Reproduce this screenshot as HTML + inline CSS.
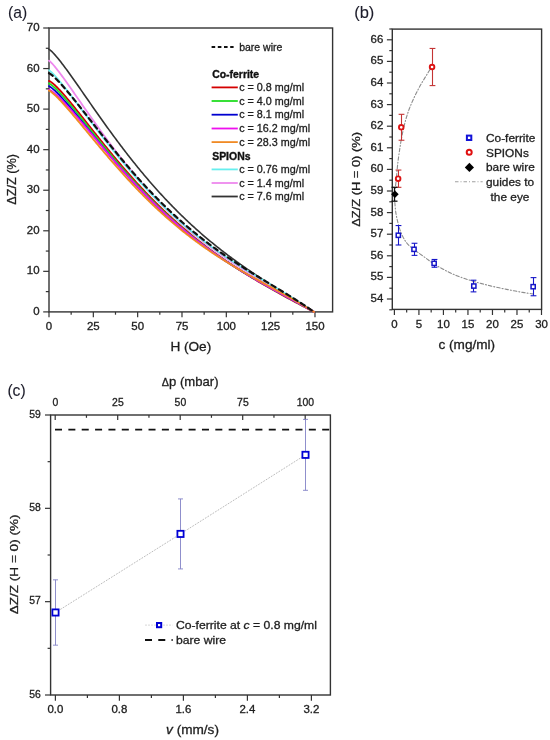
<!DOCTYPE html>
<html><head><meta charset="utf-8"><title>Figure</title>
<style>
html,body{margin:0;padding:0;background:#fff;}
body{width:550px;height:740px;overflow:hidden;}
svg{display:block;font-family:'Liberation Sans', Arial, sans-serif;}
</style></head>
<body>
<svg width="550" height="740" viewBox="0 0 550 740">
<rect x="0" y="0" width="550" height="740" fill="#fff"/>
<text transform="translate(8.00,18.10) scale(0.98,1)" font-size="16" text-anchor="start" stroke="#1c1c2a" stroke-width="0.1" fill="#1c1c2a">(a)</text>
<rect x="49.0" y="28.0" width="283.6" height="283.9" fill="none" stroke="#333333" stroke-width="1.4"/>
<line x1="43.20" y1="311.90" x2="49.00" y2="311.90" stroke="#333333" stroke-width="1.2"/>
<text transform="translate(39.60,314.90) scale(1.08,1)" font-size="10.6" text-anchor="end" stroke="#1e1e1e" stroke-width="0.3" fill="#1e1e1e">0</text>
<line x1="45.80" y1="291.62" x2="49.00" y2="291.62" stroke="#333333" stroke-width="1.2"/>
<line x1="43.20" y1="271.34" x2="49.00" y2="271.34" stroke="#333333" stroke-width="1.2"/>
<text transform="translate(39.60,274.34) scale(1.08,1)" font-size="10.6" text-anchor="end" stroke="#1e1e1e" stroke-width="0.3" fill="#1e1e1e">10</text>
<line x1="45.80" y1="251.06" x2="49.00" y2="251.06" stroke="#333333" stroke-width="1.2"/>
<line x1="43.20" y1="230.79" x2="49.00" y2="230.79" stroke="#333333" stroke-width="1.2"/>
<text transform="translate(39.60,233.79) scale(1.08,1)" font-size="10.6" text-anchor="end" stroke="#1e1e1e" stroke-width="0.3" fill="#1e1e1e">20</text>
<line x1="45.80" y1="210.51" x2="49.00" y2="210.51" stroke="#333333" stroke-width="1.2"/>
<line x1="43.20" y1="190.23" x2="49.00" y2="190.23" stroke="#333333" stroke-width="1.2"/>
<text transform="translate(39.60,193.23) scale(1.08,1)" font-size="10.6" text-anchor="end" stroke="#1e1e1e" stroke-width="0.3" fill="#1e1e1e">30</text>
<line x1="45.80" y1="169.95" x2="49.00" y2="169.95" stroke="#333333" stroke-width="1.2"/>
<line x1="43.20" y1="149.67" x2="49.00" y2="149.67" stroke="#333333" stroke-width="1.2"/>
<text transform="translate(39.60,152.67) scale(1.08,1)" font-size="10.6" text-anchor="end" stroke="#1e1e1e" stroke-width="0.3" fill="#1e1e1e">40</text>
<line x1="45.80" y1="129.39" x2="49.00" y2="129.39" stroke="#333333" stroke-width="1.2"/>
<line x1="43.20" y1="109.11" x2="49.00" y2="109.11" stroke="#333333" stroke-width="1.2"/>
<text transform="translate(39.60,112.11) scale(1.08,1)" font-size="10.6" text-anchor="end" stroke="#1e1e1e" stroke-width="0.3" fill="#1e1e1e">50</text>
<line x1="45.80" y1="88.84" x2="49.00" y2="88.84" stroke="#333333" stroke-width="1.2"/>
<line x1="43.20" y1="68.56" x2="49.00" y2="68.56" stroke="#333333" stroke-width="1.2"/>
<text transform="translate(39.60,71.56) scale(1.08,1)" font-size="10.6" text-anchor="end" stroke="#1e1e1e" stroke-width="0.3" fill="#1e1e1e">60</text>
<line x1="45.80" y1="48.28" x2="49.00" y2="48.28" stroke="#333333" stroke-width="1.2"/>
<line x1="43.20" y1="28.00" x2="49.00" y2="28.00" stroke="#333333" stroke-width="1.2"/>
<text transform="translate(39.60,31.00) scale(1.08,1)" font-size="10.6" text-anchor="end" stroke="#1e1e1e" stroke-width="0.3" fill="#1e1e1e">70</text>
<line x1="49.00" y1="311.90" x2="49.00" y2="317.20" stroke="#333333" stroke-width="1.2"/>
<text transform="translate(49.00,329.80) scale(1.08,1)" font-size="10.6" text-anchor="middle" stroke="#1e1e1e" stroke-width="0.3" fill="#1e1e1e">0</text>
<line x1="71.16" y1="311.90" x2="71.16" y2="314.70" stroke="#333333" stroke-width="1.2"/>
<line x1="93.33" y1="311.90" x2="93.33" y2="317.20" stroke="#333333" stroke-width="1.2"/>
<text transform="translate(93.33,329.80) scale(1.08,1)" font-size="10.6" text-anchor="middle" stroke="#1e1e1e" stroke-width="0.3" fill="#1e1e1e">25</text>
<line x1="115.49" y1="311.90" x2="115.49" y2="314.70" stroke="#333333" stroke-width="1.2"/>
<line x1="137.66" y1="311.90" x2="137.66" y2="317.20" stroke="#333333" stroke-width="1.2"/>
<text transform="translate(137.66,329.80) scale(1.08,1)" font-size="10.6" text-anchor="middle" stroke="#1e1e1e" stroke-width="0.3" fill="#1e1e1e">50</text>
<line x1="159.82" y1="311.90" x2="159.82" y2="314.70" stroke="#333333" stroke-width="1.2"/>
<line x1="181.99" y1="311.90" x2="181.99" y2="317.20" stroke="#333333" stroke-width="1.2"/>
<text transform="translate(181.99,329.80) scale(1.08,1)" font-size="10.6" text-anchor="middle" stroke="#1e1e1e" stroke-width="0.3" fill="#1e1e1e">75</text>
<line x1="204.16" y1="311.90" x2="204.16" y2="314.70" stroke="#333333" stroke-width="1.2"/>
<line x1="226.32" y1="311.90" x2="226.32" y2="317.20" stroke="#333333" stroke-width="1.2"/>
<text transform="translate(226.32,329.80) scale(1.08,1)" font-size="10.6" text-anchor="middle" stroke="#1e1e1e" stroke-width="0.3" fill="#1e1e1e">100</text>
<line x1="248.48" y1="311.90" x2="248.48" y2="314.70" stroke="#333333" stroke-width="1.2"/>
<line x1="270.65" y1="311.90" x2="270.65" y2="317.20" stroke="#333333" stroke-width="1.2"/>
<text transform="translate(270.65,329.80) scale(1.08,1)" font-size="10.6" text-anchor="middle" stroke="#1e1e1e" stroke-width="0.3" fill="#1e1e1e">125</text>
<line x1="292.81" y1="311.90" x2="292.81" y2="314.70" stroke="#333333" stroke-width="1.2"/>
<line x1="314.98" y1="311.90" x2="314.98" y2="317.20" stroke="#333333" stroke-width="1.2"/>
<text transform="translate(314.98,329.80) scale(1.08,1)" font-size="10.6" text-anchor="middle" stroke="#1e1e1e" stroke-width="0.3" fill="#1e1e1e">150</text>
<text transform="translate(190.80,351.20) scale(1.08,1)" font-size="12.6" text-anchor="middle" stroke="#1e1e1e" stroke-width="0.3" fill="#1e1e1e">H (Oe)</text>
<text transform="translate(15.70,179.40) rotate(-90) scale(1.07,1)" font-size="11.9" text-anchor="middle" stroke="#1e1e1e" stroke-width="0.3" fill="#1e1e1e">&#916;Z/Z (%)</text>
<path d="M49.00,49.37 L49.89,49.90 L50.77,50.62 L51.66,51.42 L52.55,52.29 L53.43,53.21 L54.32,54.16 L55.20,55.15 L56.09,56.18 L56.98,57.22 L57.86,58.29 L58.75,59.38 L59.64,60.49 L60.52,61.61 L61.41,62.75 L62.29,63.91 L63.18,65.07 L64.07,66.25 L64.95,67.44 L65.84,68.63 L66.73,69.84 L67.61,71.05 L68.50,72.27 L69.38,73.50 L70.27,74.74 L71.16,75.98 L72.04,77.22 L72.93,78.47 L73.82,79.72 L74.70,80.98 L75.59,82.24 L76.47,83.50 L77.36,84.77 L78.25,86.04 L79.13,87.31 L80.02,88.58 L80.91,89.85 L81.79,91.13 L82.68,92.40 L83.57,93.68 L84.45,94.95 L85.34,96.23 L86.22,97.50 L87.11,98.78 L88.00,100.06 L88.88,101.33 L89.77,102.60 L90.66,103.88 L91.54,105.15 L92.43,106.42 L93.31,107.69 L94.20,108.95 L95.09,110.22 L95.97,111.48 L96.86,112.74 L97.75,114.00 L98.63,115.26 L99.52,116.51 L100.40,117.76 L101.29,119.01 L102.18,120.26 L103.06,121.50 L103.95,122.74 L104.84,123.98 L105.72,125.22 L106.61,126.45 L107.49,127.68 L108.38,128.90 L109.27,130.12 L110.15,131.34 L111.04,132.56 L111.93,133.77 L112.81,134.98 L113.70,136.18 L114.59,137.38 L115.47,138.58 L116.36,139.77 L117.24,140.96 L118.13,142.14 L119.02,143.33 L119.90,144.50 L120.79,145.68 L121.68,146.85 L122.56,148.01 L123.45,149.17 L124.33,150.33 L125.22,151.48 L126.11,152.63 L126.99,153.77 L127.88,154.91 L128.77,156.05 L129.65,157.18 L130.54,158.30 L131.42,159.43 L132.31,160.54 L133.20,161.66 L134.08,162.76 L134.97,163.87 L135.86,164.97 L136.74,166.06 L137.63,167.15 L138.52,168.24 L139.40,169.32 L140.29,170.40 L141.17,171.47 L142.06,172.54 L142.95,173.60 L143.83,174.66 L144.72,175.71 L145.61,176.76 L146.49,177.81 L147.38,178.85 L148.26,179.88 L149.15,180.91 L150.04,181.94 L150.92,182.96 L151.81,183.98 L152.70,184.99 L153.58,186.00 L154.47,187.00 L155.35,188.00 L156.24,188.99 L157.13,189.98 L158.01,190.97 L158.90,191.95 L159.79,192.92 L160.67,193.89 L161.56,194.86 L162.44,195.82 L163.33,196.78 L164.22,197.73 L165.10,198.68 L165.99,199.62 L166.88,200.56 L167.76,201.49 L168.65,202.42 L169.54,203.35 L170.42,204.27 L171.31,205.18 L172.19,206.09 L173.08,207.00 L173.97,207.90 L174.85,208.80 L175.74,209.69 L176.63,210.58 L177.51,211.47 L178.40,212.35 L179.28,213.22 L180.17,214.09 L181.06,214.96 L181.94,215.82 L182.83,216.68 L183.72,217.54 L184.60,218.39 L185.49,219.23 L186.37,220.07 L187.26,220.91 L188.15,221.75 L189.03,222.57 L189.92,223.40 L190.81,224.22 L191.69,225.04 L192.58,225.85 L193.46,226.66 L194.35,227.46 L195.24,228.26 L196.12,229.06 L197.01,229.85 L197.90,230.64 L198.78,231.42 L199.67,232.20 L200.56,232.98 L201.44,233.75 L202.33,234.52 L203.21,235.29 L204.10,236.05 L204.99,236.81 L205.87,237.56 L206.76,238.31 L207.65,239.06 L208.53,239.80 L209.42,240.54 L210.30,241.27 L211.19,242.00 L212.08,242.73 L212.96,243.46 L213.85,244.18 L214.74,244.90 L215.62,245.61 L216.51,246.32 L217.39,247.03 L218.28,247.73 L219.17,248.43 L220.05,249.13 L220.94,249.83 L221.83,250.52 L222.71,251.21 L223.60,251.89 L224.48,252.57 L225.37,253.25 L226.26,253.93 L227.14,254.60 L228.03,255.27 L228.92,255.93 L229.80,256.60 L230.69,257.26 L231.58,257.92 L232.46,258.57 L233.35,259.22 L234.23,259.87 L235.12,260.52 L236.01,261.16 L236.89,261.80 L237.78,262.44 L238.67,263.08 L239.55,263.71 L240.44,264.34 L241.32,264.97 L242.21,265.60 L243.10,266.22 L243.98,266.84 L244.87,267.46 L245.76,268.08 L246.64,268.69 L247.53,269.30 L248.41,269.91 L249.30,270.52 L250.19,271.12 L251.07,271.73 L251.96,272.33 L252.85,272.93 L253.73,273.52 L254.62,274.12 L255.51,274.71 L256.39,275.31 L257.28,275.89 L258.16,276.48 L259.05,277.07 L259.94,277.65 L260.82,278.24 L261.71,278.82 L262.60,279.40 L263.48,279.98 L264.37,280.55 L265.25,281.13 L266.14,281.70 L267.03,282.27 L267.91,282.85 L268.80,283.42 L269.69,283.98 L270.57,284.55 L271.46,285.12 L272.34,285.68 L273.23,286.25 L274.12,286.81 L275.00,287.37 L275.89,287.94 L276.78,288.50 L277.66,289.06 L278.55,289.62 L279.43,290.17 L280.32,290.73 L281.21,291.29 L282.09,291.84 L282.98,292.40 L283.87,292.96 L284.75,293.51 L285.64,294.07 L286.53,294.62 L287.41,295.17 L288.30,295.73 L289.18,296.28 L290.07,296.83 L290.96,297.39 L291.84,297.94 L292.73,298.49 L293.62,299.05 L294.50,299.60 L295.39,300.15 L296.27,300.71 L297.16,301.26 L298.05,301.81 L298.93,302.37 L299.82,302.92 L300.71,303.48 L301.59,304.04 L302.48,304.59 L303.36,305.15 L304.25,305.71 L305.14,306.26 L306.02,306.82 L306.91,307.38 L307.80,307.94 L308.68,308.51 L309.57,309.07 L310.45,309.63 L311.34,310.20 L312.23,310.76 L313.11,311.33 L314.00,311.90" fill="none" stroke="#333333" stroke-width="1.6" stroke-linejoin="round" stroke-linecap="round"/>
<path d="M49.00,60.65 L49.89,61.29 L50.77,62.11 L51.66,63.02 L52.55,63.98 L53.43,64.99 L54.32,66.03 L55.20,67.11 L56.09,68.20 L56.98,69.32 L57.86,70.46 L58.75,71.61 L59.64,72.78 L60.52,73.97 L61.41,75.16 L62.29,76.37 L63.18,77.58 L64.07,78.80 L64.95,80.03 L65.84,81.27 L66.73,82.52 L67.61,83.77 L68.50,85.02 L69.38,86.28 L70.27,87.54 L71.16,88.81 L72.04,90.08 L72.93,91.35 L73.82,92.62 L74.70,93.90 L75.59,95.17 L76.47,96.45 L77.36,97.73 L78.25,99.01 L79.13,100.29 L80.02,101.57 L80.91,102.85 L81.79,104.12 L82.68,105.40 L83.57,106.68 L84.45,107.95 L85.34,109.23 L86.22,110.50 L87.11,111.77 L88.00,113.04 L88.88,114.31 L89.77,115.57 L90.66,116.84 L91.54,118.10 L92.43,119.35 L93.31,120.61 L94.20,121.86 L95.09,123.11 L95.97,124.36 L96.86,125.60 L97.75,126.84 L98.63,128.08 L99.52,129.31 L100.40,130.54 L101.29,131.77 L102.18,132.99 L103.06,134.21 L103.95,135.42 L104.84,136.63 L105.72,137.84 L106.61,139.04 L107.49,140.24 L108.38,141.44 L109.27,142.63 L110.15,143.81 L111.04,145.00 L111.93,146.18 L112.81,147.35 L113.70,148.52 L114.59,149.68 L115.47,150.84 L116.36,152.00 L117.24,153.15 L118.13,154.30 L119.02,155.44 L119.90,156.57 L120.79,157.71 L121.68,158.83 L122.56,159.96 L123.45,161.08 L124.33,162.19 L125.22,163.30 L126.11,164.40 L126.99,165.50 L127.88,166.59 L128.77,167.68 L129.65,168.76 L130.54,169.84 L131.42,170.92 L132.31,171.99 L133.20,173.05 L134.08,174.11 L134.97,175.16 L135.86,176.21 L136.74,177.25 L137.63,178.29 L138.52,179.33 L139.40,180.36 L140.29,181.38 L141.17,182.40 L142.06,183.41 L142.95,184.42 L143.83,185.42 L144.72,186.42 L145.61,187.41 L146.49,188.40 L147.38,189.38 L148.26,190.36 L149.15,191.33 L150.04,192.30 L150.92,193.26 L151.81,194.22 L152.70,195.17 L153.58,196.12 L154.47,197.06 L155.35,198.00 L156.24,198.93 L157.13,199.86 L158.01,200.78 L158.90,201.70 L159.79,202.61 L160.67,203.52 L161.56,204.42 L162.44,205.32 L163.33,206.21 L164.22,207.10 L165.10,207.98 L165.99,208.86 L166.88,209.73 L167.76,210.60 L168.65,211.46 L169.54,212.32 L170.42,213.17 L171.31,214.02 L172.19,214.86 L173.08,215.70 L173.97,216.54 L174.85,217.37 L175.74,218.19 L176.63,219.01 L177.51,219.83 L178.40,220.64 L179.28,221.44 L180.17,222.24 L181.06,223.04 L181.94,223.83 L182.83,224.62 L183.72,225.40 L184.60,226.18 L185.49,226.96 L186.37,227.73 L187.26,228.49 L188.15,229.25 L189.03,230.01 L189.92,230.76 L190.81,231.51 L191.69,232.25 L192.58,232.99 L193.46,233.73 L194.35,234.46 L195.24,235.19 L196.12,235.91 L197.01,236.63 L197.90,237.34 L198.78,238.05 L199.67,238.76 L200.56,239.46 L201.44,240.16 L202.33,240.85 L203.21,241.55 L204.10,242.23 L204.99,242.91 L205.87,243.59 L206.76,244.27 L207.65,244.94 L208.53,245.61 L209.42,246.27 L210.30,246.93 L211.19,247.59 L212.08,248.24 L212.96,248.89 L213.85,249.54 L214.74,250.18 L215.62,250.82 L216.51,251.46 L217.39,252.09 L218.28,252.72 L219.17,253.35 L220.05,253.97 L220.94,254.59 L221.83,255.21 L222.71,255.82 L223.60,256.43 L224.48,257.04 L225.37,257.65 L226.26,258.25 L227.14,258.85 L228.03,259.44 L228.92,260.04 L229.80,260.63 L230.69,261.22 L231.58,261.80 L232.46,262.38 L233.35,262.96 L234.23,263.54 L235.12,264.12 L236.01,264.69 L236.89,265.26 L237.78,265.83 L238.67,266.39 L239.55,266.96 L240.44,267.52 L241.32,268.08 L242.21,268.63 L243.10,269.19 L243.98,269.74 L244.87,270.29 L245.76,270.84 L246.64,271.39 L247.53,271.93 L248.41,272.48 L249.30,273.02 L250.19,273.56 L251.07,274.10 L251.96,274.63 L252.85,275.17 L253.73,275.70 L254.62,276.24 L255.51,276.77 L256.39,277.30 L257.28,277.83 L258.16,278.35 L259.05,278.88 L259.94,279.41 L260.82,279.93 L261.71,280.45 L262.60,280.98 L263.48,281.50 L264.37,282.02 L265.25,282.54 L266.14,283.06 L267.03,283.58 L267.91,284.10 L268.80,284.62 L269.69,285.13 L270.57,285.65 L271.46,286.17 L272.34,286.68 L273.23,287.20 L274.12,287.72 L275.00,288.23 L275.89,288.75 L276.78,289.27 L277.66,289.78 L278.55,290.30 L279.43,290.82 L280.32,291.33 L281.21,291.85 L282.09,292.37 L282.98,292.89 L283.87,293.41 L284.75,293.93 L285.64,294.45 L286.53,294.97 L287.41,295.49 L288.30,296.01 L289.18,296.54 L290.07,297.06 L290.96,297.59 L291.84,298.12 L292.73,298.65 L293.62,299.18 L294.50,299.71 L295.39,300.24 L296.27,300.77 L297.16,301.31 L298.05,301.85 L298.93,302.39 L299.82,302.93 L300.71,303.47 L301.59,304.02 L302.48,304.56 L303.36,305.11 L304.25,305.67 L305.14,306.22 L306.02,306.78 L306.91,307.33 L307.80,307.90 L308.68,308.46 L309.57,309.03 L310.45,309.59 L311.34,310.17 L312.23,310.74 L313.11,311.32 L314.00,311.90" fill="none" stroke="#ee88ee" stroke-width="1.8" stroke-linejoin="round" stroke-linecap="round"/>
<path d="M49.00,70.30 L49.89,70.88 L50.77,71.63 L51.66,72.44 L52.55,73.31 L53.43,74.22 L54.32,75.16 L55.20,76.12 L56.09,77.11 L56.98,78.12 L57.86,79.14 L58.75,80.19 L59.64,81.24 L60.52,82.31 L61.41,83.39 L62.29,84.48 L63.18,85.58 L64.07,86.68 L64.95,87.80 L65.84,88.92 L66.73,90.05 L67.61,91.18 L68.50,92.32 L69.38,93.47 L70.27,94.62 L71.16,95.77 L72.04,96.93 L72.93,98.09 L73.82,99.25 L74.70,100.41 L75.59,101.58 L76.47,102.75 L77.36,103.92 L78.25,105.09 L79.13,106.26 L80.02,107.44 L80.91,108.61 L81.79,109.79 L82.68,110.96 L83.57,112.14 L84.45,113.31 L85.34,114.48 L86.22,115.66 L87.11,116.83 L88.00,118.00 L88.88,119.18 L89.77,120.35 L90.66,121.51 L91.54,122.68 L92.43,123.85 L93.31,125.01 L94.20,126.17 L95.09,127.34 L95.97,128.49 L96.86,129.65 L97.75,130.80 L98.63,131.96 L99.52,133.11 L100.40,134.25 L101.29,135.40 L102.18,136.54 L103.06,137.68 L103.95,138.82 L104.84,139.95 L105.72,141.08 L106.61,142.21 L107.49,143.33 L108.38,144.45 L109.27,145.57 L110.15,146.69 L111.04,147.80 L111.93,148.91 L112.81,150.01 L113.70,151.11 L114.59,152.21 L115.47,153.30 L116.36,154.39 L117.24,155.48 L118.13,156.56 L119.02,157.64 L119.90,158.72 L120.79,159.79 L121.68,160.86 L122.56,161.92 L123.45,162.98 L124.33,164.03 L125.22,165.09 L126.11,166.13 L126.99,167.18 L127.88,168.22 L128.77,169.25 L129.65,170.28 L130.54,171.31 L131.42,172.33 L132.31,173.35 L133.20,174.36 L134.08,175.37 L134.97,176.38 L135.86,177.38 L136.74,178.38 L137.63,179.37 L138.52,180.36 L139.40,181.34 L140.29,182.32 L141.17,183.29 L142.06,184.26 L142.95,185.23 L143.83,186.19 L144.72,187.15 L145.61,188.10 L146.49,189.05 L147.38,189.99 L148.26,190.93 L149.15,191.87 L150.04,192.80 L150.92,193.72 L151.81,194.65 L152.70,195.56 L153.58,196.47 L154.47,197.38 L155.35,198.29 L156.24,199.18 L157.13,200.08 L158.01,200.97 L158.90,201.85 L159.79,202.73 L160.67,203.61 L161.56,204.48 L162.44,205.35 L163.33,206.21 L164.22,207.07 L165.10,207.93 L165.99,208.78 L166.88,209.62 L167.76,210.46 L168.65,211.30 L169.54,212.13 L170.42,212.96 L171.31,213.78 L172.19,214.60 L173.08,215.41 L173.97,216.22 L174.85,217.03 L175.74,217.83 L176.63,218.63 L177.51,219.42 L178.40,220.21 L179.28,220.99 L180.17,221.77 L181.06,222.55 L181.94,223.32 L182.83,224.09 L183.72,224.85 L184.60,225.61 L185.49,226.37 L186.37,227.12 L187.26,227.87 L188.15,228.61 L189.03,229.35 L189.92,230.08 L190.81,230.81 L191.69,231.54 L192.58,232.26 L193.46,232.98 L194.35,233.70 L195.24,234.41 L196.12,235.12 L197.01,235.82 L197.90,236.52 L198.78,237.22 L199.67,237.91 L200.56,238.60 L201.44,239.28 L202.33,239.97 L203.21,240.64 L204.10,241.32 L204.99,241.99 L205.87,242.66 L206.76,243.32 L207.65,243.98 L208.53,244.64 L209.42,245.29 L210.30,245.94 L211.19,246.59 L212.08,247.23 L212.96,247.87 L213.85,248.51 L214.74,249.14 L215.62,249.78 L216.51,250.40 L217.39,251.03 L218.28,251.65 L219.17,252.27 L220.05,252.88 L220.94,253.50 L221.83,254.11 L222.71,254.72 L223.60,255.32 L224.48,255.92 L225.37,256.52 L226.26,257.12 L227.14,257.71 L228.03,258.30 L228.92,258.89 L229.80,259.48 L230.69,260.06 L231.58,260.64 L232.46,261.22 L233.35,261.80 L234.23,262.37 L235.12,262.94 L236.01,263.51 L236.89,264.08 L237.78,264.65 L238.67,265.21 L239.55,265.77 L240.44,266.33 L241.32,266.89 L242.21,267.45 L243.10,268.00 L243.98,268.56 L244.87,269.11 L245.76,269.66 L246.64,270.20 L247.53,270.75 L248.41,271.30 L249.30,271.84 L250.19,272.38 L251.07,272.92 L251.96,273.46 L252.85,274.00 L253.73,274.54 L254.62,275.07 L255.51,275.61 L256.39,276.14 L257.28,276.68 L258.16,277.21 L259.05,277.74 L259.94,278.27 L260.82,278.80 L261.71,279.33 L262.60,279.86 L263.48,280.39 L264.37,280.92 L265.25,281.45 L266.14,281.97 L267.03,282.50 L267.91,283.03 L268.80,283.55 L269.69,284.08 L270.57,284.61 L271.46,285.14 L272.34,285.66 L273.23,286.19 L274.12,286.72 L275.00,287.25 L275.89,287.77 L276.78,288.30 L277.66,288.83 L278.55,289.36 L279.43,289.89 L280.32,290.42 L281.21,290.96 L282.09,291.49 L282.98,292.02 L283.87,292.56 L284.75,293.10 L285.64,293.63 L286.53,294.17 L287.41,294.71 L288.30,295.25 L289.18,295.80 L290.07,296.34 L290.96,296.89 L291.84,297.43 L292.73,297.98 L293.62,298.53 L294.50,299.09 L295.39,299.64 L296.27,300.20 L297.16,300.76 L298.05,301.32 L298.93,301.88 L299.82,302.45 L300.71,303.02 L301.59,303.59 L302.48,304.16 L303.36,304.74 L304.25,305.32 L305.14,305.90 L306.02,306.49 L306.91,307.08 L307.80,307.67 L308.68,308.26 L309.57,308.86 L310.45,309.46 L311.34,310.06 L312.23,310.67 L313.11,311.28 L314.00,311.90" fill="none" stroke="#70eeee" stroke-width="1.8" stroke-linejoin="round" stroke-linecap="round"/>
<path d="M49.00,80.93 L49.89,81.31 L50.77,81.86 L51.66,82.50 L52.55,83.19 L53.43,83.93 L54.32,84.71 L55.20,85.53 L56.09,86.37 L56.98,87.24 L57.86,88.14 L58.75,89.05 L59.64,89.98 L60.52,90.94 L61.41,91.90 L62.29,92.88 L63.18,93.88 L64.07,94.88 L64.95,95.90 L65.84,96.93 L66.73,97.97 L67.61,99.01 L68.50,100.07 L69.38,101.13 L70.27,102.20 L71.16,103.27 L72.04,104.36 L72.93,105.44 L73.82,106.53 L74.70,107.63 L75.59,108.73 L76.47,109.83 L77.36,110.94 L78.25,112.04 L79.13,113.16 L80.02,114.27 L80.91,115.39 L81.79,116.50 L82.68,117.62 L83.57,118.74 L84.45,119.86 L85.34,120.98 L86.22,122.11 L87.11,123.23 L88.00,124.35 L88.88,125.47 L89.77,126.60 L90.66,127.72 L91.54,128.84 L92.43,129.96 L93.31,131.08 L94.20,132.20 L95.09,133.31 L95.97,134.43 L96.86,135.54 L97.75,136.66 L98.63,137.77 L99.52,138.87 L100.40,139.98 L101.29,141.09 L102.18,142.19 L103.06,143.29 L103.95,144.39 L104.84,145.48 L105.72,146.58 L106.61,147.67 L107.49,148.75 L108.38,149.84 L109.27,150.92 L110.15,152.00 L111.04,153.07 L111.93,154.15 L112.81,155.22 L113.70,156.28 L114.59,157.35 L115.47,158.41 L116.36,159.46 L117.24,160.52 L118.13,161.57 L119.02,162.62 L119.90,163.66 L120.79,164.70 L121.68,165.73 L122.56,166.77 L123.45,167.80 L124.33,168.82 L125.22,169.84 L126.11,170.86 L126.99,171.87 L127.88,172.88 L128.77,173.89 L129.65,174.89 L130.54,175.89 L131.42,176.89 L132.31,177.88 L133.20,178.86 L134.08,179.85 L134.97,180.83 L135.86,181.80 L136.74,182.77 L137.63,183.74 L138.52,184.70 L139.40,185.66 L140.29,186.62 L141.17,187.57 L142.06,188.52 L142.95,189.46 L143.83,190.40 L144.72,191.33 L145.61,192.26 L146.49,193.19 L147.38,194.11 L148.26,195.03 L149.15,195.95 L150.04,196.86 L150.92,197.77 L151.81,198.67 L152.70,199.57 L153.58,200.46 L154.47,201.35 L155.35,202.24 L156.24,203.12 L157.13,204.00 L158.01,204.87 L158.90,205.74 L159.79,206.61 L160.67,207.47 L161.56,208.33 L162.44,209.19 L163.33,210.04 L164.22,210.88 L165.10,211.73 L165.99,212.56 L166.88,213.40 L167.76,214.23 L168.65,215.06 L169.54,215.88 L170.42,216.70 L171.31,217.51 L172.19,218.33 L173.08,219.13 L173.97,219.94 L174.85,220.74 L175.74,221.53 L176.63,222.32 L177.51,223.11 L178.40,223.90 L179.28,224.68 L180.17,225.45 L181.06,226.23 L181.94,227.00 L182.83,227.76 L183.72,228.53 L184.60,229.28 L185.49,230.04 L186.37,230.79 L187.26,231.54 L188.15,232.28 L189.03,233.02 L189.92,233.76 L190.81,234.49 L191.69,235.22 L192.58,235.95 L193.46,236.67 L194.35,237.39 L195.24,238.11 L196.12,238.82 L197.01,239.53 L197.90,240.23 L198.78,240.94 L199.67,241.64 L200.56,242.33 L201.44,243.02 L202.33,243.71 L203.21,244.40 L204.10,245.08 L204.99,245.76 L205.87,246.44 L206.76,247.11 L207.65,247.78 L208.53,248.44 L209.42,249.11 L210.30,249.77 L211.19,250.42 L212.08,251.08 L212.96,251.73 L213.85,252.38 L214.74,253.02 L215.62,253.66 L216.51,254.30 L217.39,254.94 L218.28,255.57 L219.17,256.20 L220.05,256.83 L220.94,257.45 L221.83,258.07 L222.71,258.69 L223.60,259.31 L224.48,259.92 L225.37,260.53 L226.26,261.14 L227.14,261.75 L228.03,262.35 L228.92,262.95 L229.80,263.54 L230.69,264.14 L231.58,264.73 L232.46,265.32 L233.35,265.91 L234.23,266.49 L235.12,267.07 L236.01,267.65 L236.89,268.23 L237.78,268.80 L238.67,269.37 L239.55,269.94 L240.44,270.51 L241.32,271.08 L242.21,271.64 L243.10,272.20 L243.98,272.76 L244.87,273.31 L245.76,273.87 L246.64,274.42 L247.53,274.97 L248.41,275.52 L249.30,276.06 L250.19,276.60 L251.07,277.14 L251.96,277.68 L252.85,278.22 L253.73,278.76 L254.62,279.29 L255.51,279.82 L256.39,280.35 L257.28,280.88 L258.16,281.40 L259.05,281.92 L259.94,282.45 L260.82,282.97 L261.71,283.48 L262.60,284.00 L263.48,284.52 L264.37,285.03 L265.25,285.54 L266.14,286.05 L267.03,286.56 L267.91,287.07 L268.80,287.57 L269.69,288.07 L270.57,288.58 L271.46,289.08 L272.34,289.58 L273.23,290.07 L274.12,290.57 L275.00,291.06 L275.89,291.56 L276.78,292.05 L277.66,292.54 L278.55,293.03 L279.43,293.52 L280.32,294.01 L281.21,294.49 L282.09,294.98 L282.98,295.46 L283.87,295.95 L284.75,296.43 L285.64,296.91 L286.53,297.39 L287.41,297.87 L288.30,298.34 L289.18,298.82 L290.07,299.30 L290.96,299.77 L291.84,300.25 L292.73,300.72 L293.62,301.19 L294.50,301.66 L295.39,302.13 L296.27,302.60 L297.16,303.07 L298.05,303.54 L298.93,304.01 L299.82,304.48 L300.71,304.94 L301.59,305.41 L302.48,305.88 L303.36,306.34 L304.25,306.81 L305.14,307.27 L306.02,307.74 L306.91,308.20 L307.80,308.66 L308.68,309.13 L309.57,309.59 L310.45,310.05 L311.34,310.51 L312.23,310.98 L313.11,311.44 L314.00,311.90" fill="none" stroke="#d40000" stroke-width="1.8" stroke-linejoin="round" stroke-linecap="round"/>
<path d="M49.00,83.52 L49.89,83.92 L50.77,84.48 L51.66,85.13 L52.55,85.83 L53.43,86.57 L54.32,87.36 L55.20,88.18 L56.09,89.02 L56.98,89.89 L57.86,90.78 L58.75,91.70 L59.64,92.63 L60.52,93.57 L61.41,94.53 L62.29,95.51 L63.18,96.50 L64.07,97.50 L64.95,98.51 L65.84,99.53 L66.73,100.56 L67.61,101.59 L68.50,102.64 L69.38,103.69 L70.27,104.75 L71.16,105.82 L72.04,106.89 L72.93,107.96 L73.82,109.04 L74.70,110.12 L75.59,111.21 L76.47,112.30 L77.36,113.40 L78.25,114.49 L79.13,115.59 L80.02,116.69 L80.91,117.80 L81.79,118.90 L82.68,120.01 L83.57,121.11 L84.45,122.22 L85.34,123.33 L86.22,124.44 L87.11,125.55 L88.00,126.66 L88.88,127.77 L89.77,128.88 L90.66,129.99 L91.54,131.09 L92.43,132.20 L93.31,133.31 L94.20,134.41 L95.09,135.52 L95.97,136.62 L96.86,137.72 L97.75,138.82 L98.63,139.91 L99.52,141.01 L100.40,142.10 L101.29,143.20 L102.18,144.29 L103.06,145.37 L103.95,146.46 L104.84,147.54 L105.72,148.62 L106.61,149.70 L107.49,150.77 L108.38,151.84 L109.27,152.91 L110.15,153.98 L111.04,155.04 L111.93,156.10 L112.81,157.16 L113.70,158.21 L114.59,159.26 L115.47,160.31 L116.36,161.36 L117.24,162.40 L118.13,163.43 L119.02,164.47 L119.90,165.50 L120.79,166.53 L121.68,167.55 L122.56,168.57 L123.45,169.59 L124.33,170.60 L125.22,171.61 L126.11,172.61 L126.99,173.62 L127.88,174.61 L128.77,175.61 L129.65,176.60 L130.54,177.59 L131.42,178.57 L132.31,179.55 L133.20,180.52 L134.08,181.49 L134.97,182.46 L135.86,183.42 L136.74,184.38 L137.63,185.34 L138.52,186.29 L139.40,187.23 L140.29,188.18 L141.17,189.12 L142.06,190.05 L142.95,190.98 L143.83,191.91 L144.72,192.83 L145.61,193.75 L146.49,194.66 L147.38,195.57 L148.26,196.48 L149.15,197.38 L150.04,198.28 L150.92,199.18 L151.81,200.07 L152.70,200.95 L153.58,201.83 L154.47,202.71 L155.35,203.59 L156.24,204.46 L157.13,205.32 L158.01,206.18 L158.90,207.04 L159.79,207.89 L160.67,208.74 L161.56,209.59 L162.44,210.43 L163.33,211.27 L164.22,212.10 L165.10,212.93 L165.99,213.75 L166.88,214.58 L167.76,215.39 L168.65,216.21 L169.54,217.01 L170.42,217.82 L171.31,218.62 L172.19,219.42 L173.08,220.21 L173.97,221.00 L174.85,221.79 L175.74,222.57 L176.63,223.35 L177.51,224.12 L178.40,224.89 L179.28,225.66 L180.17,226.42 L181.06,227.18 L181.94,227.93 L182.83,228.69 L183.72,229.43 L184.60,230.18 L185.49,230.92 L186.37,231.65 L187.26,232.39 L188.15,233.11 L189.03,233.84 L189.92,234.56 L190.81,235.28 L191.69,235.99 L192.58,236.71 L193.46,237.41 L194.35,238.12 L195.24,238.82 L196.12,239.51 L197.01,240.21 L197.90,240.90 L198.78,241.58 L199.67,242.27 L200.56,242.95 L201.44,243.62 L202.33,244.30 L203.21,244.97 L204.10,245.63 L204.99,246.30 L205.87,246.96 L206.76,247.61 L207.65,248.27 L208.53,248.92 L209.42,249.56 L210.30,250.21 L211.19,250.85 L212.08,251.49 L212.96,252.12 L213.85,252.75 L214.74,253.38 L215.62,254.01 L216.51,254.63 L217.39,255.25 L218.28,255.87 L219.17,256.48 L220.05,257.09 L220.94,257.70 L221.83,258.31 L222.71,258.91 L223.60,259.51 L224.48,260.11 L225.37,260.70 L226.26,261.29 L227.14,261.88 L228.03,262.47 L228.92,263.05 L229.80,263.64 L230.69,264.21 L231.58,264.79 L232.46,265.36 L233.35,265.94 L234.23,266.51 L235.12,267.07 L236.01,267.64 L236.89,268.20 L237.78,268.76 L238.67,269.32 L239.55,269.87 L240.44,270.42 L241.32,270.98 L242.21,271.52 L243.10,272.07 L243.98,272.62 L244.87,273.16 L245.76,273.70 L246.64,274.24 L247.53,274.77 L248.41,275.31 L249.30,275.84 L250.19,276.37 L251.07,276.90 L251.96,277.43 L252.85,277.95 L253.73,278.48 L254.62,279.00 L255.51,279.52 L256.39,280.04 L257.28,280.55 L258.16,281.07 L259.05,281.58 L259.94,282.09 L260.82,282.61 L261.71,283.11 L262.60,283.62 L263.48,284.13 L264.37,284.63 L265.25,285.14 L266.14,285.64 L267.03,286.14 L267.91,286.64 L268.80,287.14 L269.69,287.64 L270.57,288.14 L271.46,288.63 L272.34,289.13 L273.23,289.62 L274.12,290.11 L275.00,290.60 L275.89,291.10 L276.78,291.59 L277.66,292.07 L278.55,292.56 L279.43,293.05 L280.32,293.54 L281.21,294.02 L282.09,294.51 L282.98,294.99 L283.87,295.48 L284.75,295.96 L285.64,296.45 L286.53,296.93 L287.41,297.41 L288.30,297.90 L289.18,298.38 L290.07,298.86 L290.96,299.34 L291.84,299.82 L292.73,300.30 L293.62,300.78 L294.50,301.26 L295.39,301.75 L296.27,302.23 L297.16,302.71 L298.05,303.19 L298.93,303.67 L299.82,304.15 L300.71,304.63 L301.59,305.11 L302.48,305.59 L303.36,306.08 L304.25,306.56 L305.14,307.04 L306.02,307.52 L306.91,308.01 L307.80,308.49 L308.68,308.98 L309.57,309.46 L310.45,309.95 L311.34,310.44 L312.23,310.92 L313.11,311.41 L314.00,311.90" fill="none" stroke="#22dd22" stroke-width="1.8" stroke-linejoin="round" stroke-linecap="round"/>
<path d="M49.00,86.24 L49.89,86.66 L50.77,87.23 L51.66,87.88 L52.55,88.59 L53.43,89.35 L54.32,90.13 L55.20,90.95 L56.09,91.80 L56.98,92.67 L57.86,93.56 L58.75,94.47 L59.64,95.40 L60.52,96.34 L61.41,97.29 L62.29,98.26 L63.18,99.24 L64.07,100.24 L64.95,101.24 L65.84,102.25 L66.73,103.27 L67.61,104.30 L68.50,105.33 L69.38,106.38 L70.27,107.42 L71.16,108.48 L72.04,109.54 L72.93,110.60 L73.82,111.67 L74.70,112.74 L75.59,113.82 L76.47,114.89 L77.36,115.98 L78.25,117.06 L79.13,118.15 L80.02,119.23 L80.91,120.32 L81.79,121.42 L82.68,122.51 L83.57,123.60 L84.45,124.70 L85.34,125.79 L86.22,126.89 L87.11,127.98 L88.00,129.08 L88.88,130.17 L89.77,131.27 L90.66,132.36 L91.54,133.46 L92.43,134.55 L93.31,135.64 L94.20,136.73 L95.09,137.82 L95.97,138.91 L96.86,140.00 L97.75,141.08 L98.63,142.17 L99.52,143.25 L100.40,144.33 L101.29,145.41 L102.18,146.48 L103.06,147.56 L103.95,148.63 L104.84,149.70 L105.72,150.76 L106.61,151.83 L107.49,152.89 L108.38,153.95 L109.27,155.00 L110.15,156.05 L111.04,157.10 L111.93,158.15 L112.81,159.19 L113.70,160.24 L114.59,161.27 L115.47,162.31 L116.36,163.34 L117.24,164.37 L118.13,165.39 L119.02,166.41 L119.90,167.43 L120.79,168.44 L121.68,169.45 L122.56,170.46 L123.45,171.47 L124.33,172.47 L125.22,173.46 L126.11,174.45 L126.99,175.44 L127.88,176.43 L128.77,177.41 L129.65,178.39 L130.54,179.36 L131.42,180.33 L132.31,181.30 L133.20,182.26 L134.08,183.22 L134.97,184.17 L135.86,185.12 L136.74,186.07 L137.63,187.01 L138.52,187.95 L139.40,188.88 L140.29,189.81 L141.17,190.74 L142.06,191.66 L142.95,192.58 L143.83,193.49 L144.72,194.40 L145.61,195.31 L146.49,196.21 L147.38,197.11 L148.26,198.00 L149.15,198.89 L150.04,199.77 L150.92,200.65 L151.81,201.53 L152.70,202.40 L153.58,203.27 L154.47,204.14 L155.35,205.00 L156.24,205.85 L157.13,206.71 L158.01,207.55 L158.90,208.40 L159.79,209.24 L160.67,210.07 L161.56,210.90 L162.44,211.73 L163.33,212.55 L164.22,213.37 L165.10,214.19 L165.99,215.00 L166.88,215.81 L167.76,216.61 L168.65,217.41 L169.54,218.20 L170.42,219.00 L171.31,219.78 L172.19,220.56 L173.08,221.34 L173.97,222.12 L174.85,222.89 L175.74,223.66 L176.63,224.42 L177.51,225.18 L178.40,225.93 L179.28,226.69 L180.17,227.43 L181.06,228.18 L181.94,228.92 L182.83,229.65 L183.72,230.38 L184.60,231.11 L185.49,231.84 L186.37,232.56 L187.26,233.27 L188.15,233.99 L189.03,234.70 L189.92,235.40 L190.81,236.11 L191.69,236.80 L192.58,237.50 L193.46,238.19 L194.35,238.88 L195.24,239.56 L196.12,240.24 L197.01,240.92 L197.90,241.59 L198.78,242.26 L199.67,242.93 L200.56,243.59 L201.44,244.25 L202.33,244.91 L203.21,245.56 L204.10,246.21 L204.99,246.86 L205.87,247.50 L206.76,248.14 L207.65,248.78 L208.53,249.41 L209.42,250.04 L210.30,250.67 L211.19,251.29 L212.08,251.92 L212.96,252.53 L213.85,253.15 L214.74,253.76 L215.62,254.37 L216.51,254.97 L217.39,255.58 L218.28,256.18 L219.17,256.78 L220.05,257.37 L220.94,257.96 L221.83,258.55 L222.71,259.14 L223.60,259.72 L224.48,260.30 L225.37,260.88 L226.26,261.45 L227.14,262.03 L228.03,262.60 L228.92,263.17 L229.80,263.73 L230.69,264.29 L231.58,264.85 L232.46,265.41 L233.35,265.97 L234.23,266.52 L235.12,267.07 L236.01,267.62 L236.89,268.17 L237.78,268.71 L238.67,269.25 L239.55,269.79 L240.44,270.33 L241.32,270.87 L242.21,271.40 L243.10,271.94 L243.98,272.47 L244.87,272.99 L245.76,273.52 L246.64,274.05 L247.53,274.57 L248.41,275.09 L249.30,275.61 L250.19,276.13 L251.07,276.64 L251.96,277.16 L252.85,277.67 L253.73,278.18 L254.62,278.69 L255.51,279.20 L256.39,279.71 L257.28,280.22 L258.16,280.72 L259.05,281.22 L259.94,281.73 L260.82,282.23 L261.71,282.73 L262.60,283.23 L263.48,283.72 L264.37,284.22 L265.25,284.72 L266.14,285.21 L267.03,285.71 L267.91,286.20 L268.80,286.69 L269.69,287.18 L270.57,287.67 L271.46,288.17 L272.34,288.66 L273.23,289.14 L274.12,289.63 L275.00,290.12 L275.89,290.61 L276.78,291.10 L277.66,291.58 L278.55,292.07 L279.43,292.56 L280.32,293.05 L281.21,293.53 L282.09,294.02 L282.98,294.50 L283.87,294.99 L284.75,295.48 L285.64,295.96 L286.53,296.45 L287.41,296.94 L288.30,297.43 L289.18,297.91 L290.07,298.40 L290.96,298.89 L291.84,299.38 L292.73,299.87 L293.62,300.36 L294.50,300.85 L295.39,301.34 L296.27,301.83 L297.16,302.32 L298.05,302.82 L298.93,303.31 L299.82,303.81 L300.71,304.30 L301.59,304.80 L302.48,305.30 L303.36,305.80 L304.25,306.30 L305.14,306.80 L306.02,307.30 L306.91,307.81 L307.80,308.31 L308.68,308.82 L309.57,309.33 L310.45,309.84 L311.34,310.35 L312.23,310.87 L313.11,311.38 L314.00,311.90" fill="none" stroke="#0000d0" stroke-width="1.8" stroke-linejoin="round" stroke-linecap="round"/>
<path d="M49.00,89.65 L49.89,90.00 L50.77,90.51 L51.66,91.10 L52.55,91.74 L53.43,92.42 L54.32,93.14 L55.20,93.89 L56.09,94.66 L56.98,95.46 L57.86,96.28 L58.75,97.12 L59.64,97.97 L60.52,98.84 L61.41,99.73 L62.29,100.63 L63.18,101.54 L64.07,102.47 L64.95,103.41 L65.84,104.35 L66.73,105.31 L67.61,106.27 L68.50,107.24 L69.38,108.22 L70.27,109.21 L71.16,110.21 L72.04,111.21 L72.93,112.21 L73.82,113.23 L74.70,114.24 L75.59,115.26 L76.47,116.29 L77.36,117.32 L78.25,118.35 L79.13,119.39 L80.02,120.43 L80.91,121.47 L81.79,122.52 L82.68,123.56 L83.57,124.61 L84.45,125.66 L85.34,126.72 L86.22,127.77 L87.11,128.83 L88.00,129.88 L88.88,130.94 L89.77,132.00 L90.66,133.06 L91.54,134.11 L92.43,135.17 L93.31,136.23 L94.20,137.29 L95.09,138.35 L95.97,139.40 L96.86,140.46 L97.75,141.52 L98.63,142.57 L99.52,143.62 L100.40,144.68 L101.29,145.73 L102.18,146.78 L103.06,147.83 L103.95,148.87 L104.84,149.92 L105.72,150.96 L106.61,152.00 L107.49,153.04 L108.38,154.08 L109.27,155.11 L110.15,156.14 L111.04,157.17 L111.93,158.20 L112.81,159.23 L113.70,160.25 L114.59,161.27 L115.47,162.29 L116.36,163.30 L117.24,164.31 L118.13,165.32 L119.02,166.33 L119.90,167.33 L120.79,168.33 L121.68,169.33 L122.56,170.32 L123.45,171.32 L124.33,172.30 L125.22,173.29 L126.11,174.27 L126.99,175.25 L127.88,176.22 L128.77,177.19 L129.65,178.16 L130.54,179.12 L131.42,180.08 L132.31,181.04 L133.20,181.99 L134.08,182.94 L134.97,183.89 L135.86,184.83 L136.74,185.77 L137.63,186.70 L138.52,187.64 L139.40,188.56 L140.29,189.49 L141.17,190.41 L142.06,191.32 L142.95,192.24 L143.83,193.14 L144.72,194.05 L145.61,194.95 L146.49,195.85 L147.38,196.74 L148.26,197.63 L149.15,198.52 L150.04,199.40 L150.92,200.28 L151.81,201.15 L152.70,202.02 L153.58,202.89 L154.47,203.75 L155.35,204.61 L156.24,205.46 L157.13,206.31 L158.01,207.16 L158.90,208.00 L159.79,208.84 L160.67,209.67 L161.56,210.51 L162.44,211.33 L163.33,212.16 L164.22,212.97 L165.10,213.79 L165.99,214.60 L166.88,215.41 L167.76,216.21 L168.65,217.01 L169.54,217.81 L170.42,218.60 L171.31,219.39 L172.19,220.17 L173.08,220.95 L173.97,221.73 L174.85,222.50 L175.74,223.27 L176.63,224.04 L177.51,224.80 L178.40,225.56 L179.28,226.31 L180.17,227.06 L181.06,227.81 L181.94,228.55 L182.83,229.29 L183.72,230.03 L184.60,230.76 L185.49,231.49 L186.37,232.21 L187.26,232.93 L188.15,233.65 L189.03,234.36 L189.92,235.07 L190.81,235.78 L191.69,236.48 L192.58,237.18 L193.46,237.88 L194.35,238.57 L195.24,239.26 L196.12,239.95 L197.01,240.63 L197.90,241.31 L198.78,241.98 L199.67,242.66 L200.56,243.33 L201.44,243.99 L202.33,244.65 L203.21,245.31 L204.10,245.97 L204.99,246.62 L205.87,247.27 L206.76,247.92 L207.65,248.56 L208.53,249.20 L209.42,249.84 L210.30,250.47 L211.19,251.10 L212.08,251.73 L212.96,252.35 L213.85,252.98 L214.74,253.59 L215.62,254.21 L216.51,254.82 L217.39,255.43 L218.28,256.04 L219.17,256.64 L220.05,257.25 L220.94,257.85 L221.83,258.44 L222.71,259.03 L223.60,259.63 L224.48,260.21 L225.37,260.80 L226.26,261.38 L227.14,261.96 L228.03,262.54 L228.92,263.11 L229.80,263.69 L230.69,264.26 L231.58,264.82 L232.46,265.39 L233.35,265.95 L234.23,266.51 L235.12,267.07 L236.01,267.63 L236.89,268.18 L237.78,268.73 L238.67,269.28 L239.55,269.83 L240.44,270.38 L241.32,270.92 L242.21,271.46 L243.10,272.00 L243.98,272.54 L244.87,273.07 L245.76,273.60 L246.64,274.14 L247.53,274.67 L248.41,275.19 L249.30,275.72 L250.19,276.24 L251.07,276.77 L251.96,277.29 L252.85,277.81 L253.73,278.32 L254.62,278.84 L255.51,279.35 L256.39,279.87 L257.28,280.38 L258.16,280.89 L259.05,281.40 L259.94,281.90 L260.82,282.41 L261.71,282.91 L262.60,283.42 L263.48,283.92 L264.37,284.42 L265.25,284.92 L266.14,285.42 L267.03,285.92 L267.91,286.42 L268.80,286.91 L269.69,287.41 L270.57,287.90 L271.46,288.39 L272.34,288.89 L273.23,289.38 L274.12,289.87 L275.00,290.36 L275.89,290.85 L276.78,291.34 L277.66,291.83 L278.55,292.31 L279.43,292.80 L280.32,293.29 L281.21,293.77 L282.09,294.26 L282.98,294.75 L283.87,295.23 L284.75,295.72 L285.64,296.20 L286.53,296.69 L287.41,297.17 L288.30,297.66 L289.18,298.14 L290.07,298.63 L290.96,299.11 L291.84,299.60 L292.73,300.08 L293.62,300.57 L294.50,301.05 L295.39,301.54 L296.27,302.03 L297.16,302.51 L298.05,303.00 L298.93,303.49 L299.82,303.98 L300.71,304.47 L301.59,304.96 L302.48,305.45 L303.36,305.94 L304.25,306.43 L305.14,306.92 L306.02,307.41 L306.91,307.91 L307.80,308.40 L308.68,308.90 L309.57,309.40 L310.45,309.89 L311.34,310.39 L312.23,310.89 L313.11,311.40 L314.00,311.90" fill="none" stroke="#ee10ee" stroke-width="1.8" stroke-linejoin="round" stroke-linecap="round"/>
<path d="M49.00,90.54 L49.89,90.98 L50.77,91.57 L51.66,92.24 L52.55,92.96 L53.43,93.72 L54.32,94.52 L55.20,95.34 L56.09,96.18 L56.98,97.05 L57.86,97.94 L58.75,98.85 L59.64,99.77 L60.52,100.70 L61.41,101.65 L62.29,102.61 L63.18,103.58 L64.07,104.56 L64.95,105.55 L65.84,106.55 L66.73,107.56 L67.61,108.57 L68.50,109.59 L69.38,110.62 L70.27,111.65 L71.16,112.68 L72.04,113.73 L72.93,114.77 L73.82,115.82 L74.70,116.87 L75.59,117.93 L76.47,118.99 L77.36,120.05 L78.25,121.11 L79.13,122.18 L80.02,123.25 L80.91,124.32 L81.79,125.39 L82.68,126.46 L83.57,127.53 L84.45,128.60 L85.34,129.68 L86.22,130.75 L87.11,131.82 L88.00,132.90 L88.88,133.97 L89.77,135.05 L90.66,136.12 L91.54,137.19 L92.43,138.26 L93.31,139.33 L94.20,140.40 L95.09,141.47 L95.97,142.53 L96.86,143.60 L97.75,144.66 L98.63,145.72 L99.52,146.78 L100.40,147.84 L101.29,148.90 L102.18,149.95 L103.06,151.00 L103.95,152.05 L104.84,153.10 L105.72,154.15 L106.61,155.19 L107.49,156.23 L108.38,157.27 L109.27,158.30 L110.15,159.33 L111.04,160.36 L111.93,161.39 L112.81,162.41 L113.70,163.43 L114.59,164.45 L115.47,165.46 L116.36,166.47 L117.24,167.48 L118.13,168.48 L119.02,169.48 L119.90,170.48 L120.79,171.47 L121.68,172.46 L122.56,173.45 L123.45,174.43 L124.33,175.41 L125.22,176.39 L126.11,177.36 L126.99,178.33 L127.88,179.29 L128.77,180.25 L129.65,181.21 L130.54,182.16 L131.42,183.11 L132.31,184.06 L133.20,185.00 L134.08,185.94 L134.97,186.87 L135.86,187.80 L136.74,188.73 L137.63,189.65 L138.52,190.57 L139.40,191.48 L140.29,192.39 L141.17,193.30 L142.06,194.20 L142.95,195.10 L143.83,195.99 L144.72,196.88 L145.61,197.76 L146.49,198.65 L147.38,199.52 L148.26,200.40 L149.15,201.26 L150.04,202.13 L150.92,202.99 L151.81,203.84 L152.70,204.70 L153.58,205.54 L154.47,206.39 L155.35,207.23 L156.24,208.06 L157.13,208.89 L158.01,209.72 L158.90,210.54 L159.79,211.36 L160.67,212.17 L161.56,212.98 L162.44,213.79 L163.33,214.59 L164.22,215.39 L165.10,216.18 L165.99,216.97 L166.88,217.75 L167.76,218.53 L168.65,219.31 L169.54,220.08 L170.42,220.85 L171.31,221.62 L172.19,222.37 L173.08,223.13 L173.97,223.88 L174.85,224.63 L175.74,225.37 L176.63,226.11 L177.51,226.85 L178.40,227.58 L179.28,228.31 L180.17,229.03 L181.06,229.75 L181.94,230.47 L182.83,231.18 L183.72,231.89 L184.60,232.59 L185.49,233.29 L186.37,233.99 L187.26,234.68 L188.15,235.37 L189.03,236.05 L189.92,236.73 L190.81,237.41 L191.69,238.08 L192.58,238.75 L193.46,239.42 L194.35,240.08 L195.24,240.74 L196.12,241.39 L197.01,242.04 L197.90,242.69 L198.78,243.34 L199.67,243.98 L200.56,244.61 L201.44,245.25 L202.33,245.88 L203.21,246.50 L204.10,247.13 L204.99,247.75 L205.87,248.37 L206.76,248.98 L207.65,249.59 L208.53,250.20 L209.42,250.80 L210.30,251.40 L211.19,252.00 L212.08,252.59 L212.96,253.18 L213.85,253.77 L214.74,254.36 L215.62,254.94 L216.51,255.52 L217.39,256.09 L218.28,256.67 L219.17,257.24 L220.05,257.81 L220.94,258.37 L221.83,258.93 L222.71,259.49 L223.60,260.05 L224.48,260.61 L225.37,261.16 L226.26,261.71 L227.14,262.25 L228.03,262.80 L228.92,263.34 L229.80,263.88 L230.69,264.42 L231.58,264.95 L232.46,265.49 L233.35,266.02 L234.23,266.55 L235.12,267.07 L236.01,267.60 L236.89,268.12 L237.78,268.64 L238.67,269.16 L239.55,269.67 L240.44,270.19 L241.32,270.70 L242.21,271.21 L243.10,271.72 L243.98,272.23 L244.87,272.74 L245.76,273.24 L246.64,273.74 L247.53,274.24 L248.41,274.74 L249.30,275.24 L250.19,275.74 L251.07,276.24 L251.96,276.73 L252.85,277.23 L253.73,277.72 L254.62,278.21 L255.51,278.70 L256.39,279.19 L257.28,279.68 L258.16,280.17 L259.05,280.66 L259.94,281.14 L260.82,281.63 L261.71,282.11 L262.60,282.60 L263.48,283.08 L264.37,283.57 L265.25,284.05 L266.14,284.53 L267.03,285.02 L267.91,285.50 L268.80,285.98 L269.69,286.46 L270.57,286.95 L271.46,287.43 L272.34,287.91 L273.23,288.39 L274.12,288.88 L275.00,289.36 L275.89,289.84 L276.78,290.33 L277.66,290.81 L278.55,291.30 L279.43,291.78 L280.32,292.27 L281.21,292.75 L282.09,293.24 L282.98,293.73 L283.87,294.22 L284.75,294.71 L285.64,295.20 L286.53,295.69 L287.41,296.19 L288.30,296.68 L289.18,297.18 L290.07,297.68 L290.96,298.18 L291.84,298.68 L292.73,299.18 L293.62,299.68 L294.50,300.19 L295.39,300.70 L296.27,301.20 L297.16,301.72 L298.05,302.23 L298.93,302.74 L299.82,303.26 L300.71,303.78 L301.59,304.30 L302.48,304.83 L303.36,305.36 L304.25,305.88 L305.14,306.42 L306.02,306.95 L306.91,307.49 L307.80,308.03 L308.68,308.57 L309.57,309.12 L310.45,309.67 L311.34,310.22 L312.23,310.78 L313.11,311.34 L314.00,311.90" fill="none" stroke="#f08a24" stroke-width="1.9" stroke-linejoin="round" stroke-linecap="round"/>
<path d="M49.00,73.26 L49.89,73.69 L50.77,74.28 L51.66,74.95 L52.55,75.67 L53.43,76.44 L54.32,77.24 L55.20,78.07 L56.09,78.94 L56.98,79.82 L57.86,80.73 L58.75,81.66 L59.64,82.60 L60.52,83.56 L61.41,84.53 L62.29,85.52 L63.18,86.52 L64.07,87.53 L64.95,88.56 L65.84,89.59 L66.73,90.63 L67.61,91.68 L68.50,92.74 L69.38,93.80 L70.27,94.87 L71.16,95.95 L72.04,97.04 L72.93,98.12 L73.82,99.22 L74.70,100.32 L75.59,101.42 L76.47,102.53 L77.36,103.64 L78.25,104.75 L79.13,105.86 L80.02,106.98 L80.91,108.10 L81.79,109.23 L82.68,110.35 L83.57,111.48 L84.45,112.61 L85.34,113.74 L86.22,114.87 L87.11,116.00 L88.00,117.13 L88.88,118.26 L89.77,119.39 L90.66,120.52 L91.54,121.66 L92.43,122.79 L93.31,123.92 L94.20,125.05 L95.09,126.18 L95.97,127.31 L96.86,128.44 L97.75,129.56 L98.63,130.69 L99.52,131.81 L100.40,132.94 L101.29,134.06 L102.18,135.18 L103.06,136.29 L103.95,137.41 L104.84,138.52 L105.72,139.64 L106.61,140.75 L107.49,141.85 L108.38,142.96 L109.27,144.06 L110.15,145.16 L111.04,146.26 L111.93,147.35 L112.81,148.44 L113.70,149.53 L114.59,150.62 L115.47,151.70 L116.36,152.78 L117.24,153.86 L118.13,154.93 L119.02,156.01 L119.90,157.07 L120.79,158.14 L121.68,159.20 L122.56,160.26 L123.45,161.31 L124.33,162.36 L125.22,163.41 L126.11,164.45 L126.99,165.49 L127.88,166.53 L128.77,167.56 L129.65,168.59 L130.54,169.62 L131.42,170.64 L132.31,171.65 L133.20,172.67 L134.08,173.68 L134.97,174.68 L135.86,175.69 L136.74,176.68 L137.63,177.68 L138.52,178.67 L139.40,179.65 L140.29,180.64 L141.17,181.61 L142.06,182.59 L142.95,183.56 L143.83,184.52 L144.72,185.48 L145.61,186.44 L146.49,187.39 L147.38,188.34 L148.26,189.28 L149.15,190.22 L150.04,191.16 L150.92,192.09 L151.81,193.02 L152.70,193.94 L153.58,194.86 L154.47,195.77 L155.35,196.68 L156.24,197.59 L157.13,198.49 L158.01,199.39 L158.90,200.28 L159.79,201.17 L160.67,202.05 L161.56,202.93 L162.44,203.81 L163.33,204.68 L164.22,205.55 L165.10,206.41 L165.99,207.27 L166.88,208.12 L167.76,208.97 L168.65,209.82 L169.54,210.66 L170.42,211.49 L171.31,212.33 L172.19,213.15 L173.08,213.98 L173.97,214.80 L174.85,215.61 L175.74,216.42 L176.63,217.23 L177.51,218.03 L178.40,218.83 L179.28,219.63 L180.17,220.42 L181.06,221.20 L181.94,221.99 L182.83,222.76 L183.72,223.54 L184.60,224.31 L185.49,225.07 L186.37,225.83 L187.26,226.59 L188.15,227.35 L189.03,228.10 L189.92,228.84 L190.81,229.58 L191.69,230.32 L192.58,231.05 L193.46,231.78 L194.35,232.51 L195.24,233.23 L196.12,233.95 L197.01,234.67 L197.90,235.38 L198.78,236.08 L199.67,236.79 L200.56,237.49 L201.44,238.18 L202.33,238.87 L203.21,239.56 L204.10,240.25 L204.99,240.93 L205.87,241.61 L206.76,242.28 L207.65,242.95 L208.53,243.62 L209.42,244.29 L210.30,244.95 L211.19,245.61 L212.08,246.26 L212.96,246.91 L213.85,247.56 L214.74,248.20 L215.62,248.85 L216.51,249.48 L217.39,250.12 L218.28,250.75 L219.17,251.38 L220.05,252.01 L220.94,252.63 L221.83,253.25 L222.71,253.87 L223.60,254.49 L224.48,255.10 L225.37,255.71 L226.26,256.31 L227.14,256.92 L228.03,257.52 L228.92,258.12 L229.80,258.71 L230.69,259.31 L231.58,259.90 L232.46,260.49 L233.35,261.08 L234.23,261.66 L235.12,262.24 L236.01,262.82 L236.89,263.40 L237.78,263.98 L238.67,264.55 L239.55,265.12 L240.44,265.69 L241.32,266.26 L242.21,266.83 L243.10,267.39 L243.98,267.95 L244.87,268.51 L245.76,269.07 L246.64,269.63 L247.53,270.19 L248.41,270.74 L249.30,271.29 L250.19,271.84 L251.07,272.39 L251.96,272.94 L252.85,273.49 L253.73,274.04 L254.62,274.58 L255.51,275.13 L256.39,275.67 L257.28,276.21 L258.16,276.75 L259.05,277.29 L259.94,277.83 L260.82,278.37 L261.71,278.91 L262.60,279.45 L263.48,279.99 L264.37,280.52 L265.25,281.06 L266.14,281.60 L267.03,282.13 L267.91,282.67 L268.80,283.20 L269.69,283.74 L270.57,284.27 L271.46,284.81 L272.34,285.34 L273.23,285.88 L274.12,286.41 L275.00,286.95 L275.89,287.49 L276.78,288.02 L277.66,288.56 L278.55,289.10 L279.43,289.64 L280.32,290.18 L281.21,290.72 L282.09,291.26 L282.98,291.80 L283.87,292.34 L284.75,292.88 L285.64,293.43 L286.53,293.97 L287.41,294.52 L288.30,295.07 L289.18,295.62 L290.07,296.17 L290.96,296.72 L291.84,297.28 L292.73,297.83 L293.62,298.39 L294.50,298.95 L295.39,299.51 L296.27,300.08 L297.16,300.64 L298.05,301.21 L298.93,301.78 L299.82,302.36 L300.71,302.93 L301.59,303.51 L302.48,304.09 L303.36,304.67 L304.25,305.26 L305.14,305.84 L306.02,306.44 L306.91,307.03 L307.80,307.63 L308.68,308.23 L309.57,308.83 L310.45,309.44 L311.34,310.05 L312.23,310.66 L313.11,311.28 L314.00,311.90" fill="none" stroke="#111111" stroke-width="2.2" stroke-linejoin="round" stroke-linecap="round" stroke-dasharray="4.6 4.0" stroke-linecap="butt"/>
<line x1="211.60" y1="47.00" x2="233.60" y2="47.00" stroke="#111" stroke-width="2.0" stroke-dasharray="3.6 2.6"/>
<text transform="translate(239.20,50.60) scale(1.01,1)" font-size="10.4" text-anchor="start" stroke="#1e1e1e" stroke-width="0.3" fill="#1e1e1e">bare wire</text>
<text transform="translate(212.20,77.70) scale(1.005,1)" font-size="10.4" text-anchor="start" font-weight="bold" stroke="#111" stroke-width="0.35" fill="#111">Co-ferrite</text>
<line x1="211.60" y1="87.40" x2="237.80" y2="87.40" stroke="#d40000" stroke-width="1.8"/>
<text transform="translate(239.20,91.10) scale(1.035,1)" font-size="10.4" text-anchor="start" stroke="#1e1e1e" stroke-width="0.3" fill="#1e1e1e">c = 0.8 mg/ml</text>
<line x1="211.60" y1="101.00" x2="237.80" y2="101.00" stroke="#22dd22" stroke-width="1.8"/>
<text transform="translate(239.20,104.70) scale(1.035,1)" font-size="10.4" text-anchor="start" stroke="#1e1e1e" stroke-width="0.3" fill="#1e1e1e">c = 4.0 mg/ml</text>
<line x1="211.60" y1="114.70" x2="237.80" y2="114.70" stroke="#0000d0" stroke-width="1.8"/>
<text transform="translate(239.20,118.40) scale(1.035,1)" font-size="10.4" text-anchor="start" stroke="#1e1e1e" stroke-width="0.3" fill="#1e1e1e">c = 8.1 mg/ml</text>
<line x1="211.60" y1="128.50" x2="237.80" y2="128.50" stroke="#ee10ee" stroke-width="1.8"/>
<text transform="translate(239.20,132.20) scale(1.035,1)" font-size="10.4" text-anchor="start" stroke="#1e1e1e" stroke-width="0.3" fill="#1e1e1e">c = 16.2 mg/ml</text>
<line x1="211.60" y1="142.10" x2="237.80" y2="142.10" stroke="#f08a24" stroke-width="1.8"/>
<text transform="translate(239.20,145.80) scale(1.035,1)" font-size="10.4" text-anchor="start" stroke="#1e1e1e" stroke-width="0.3" fill="#1e1e1e">c = 28.3 mg/ml</text>
<text transform="translate(212.20,159.50) scale(1.005,1)" font-size="10.4" text-anchor="start" font-weight="bold" stroke="#111" stroke-width="0.35" fill="#111">SPIONs</text>
<line x1="211.60" y1="169.40" x2="237.80" y2="169.40" stroke="#66eeee" stroke-width="1.8"/>
<text transform="translate(239.20,173.10) scale(1.035,1)" font-size="10.4" text-anchor="start" stroke="#1e1e1e" stroke-width="0.3" fill="#1e1e1e">c = 0.76 mg/ml</text>
<line x1="211.60" y1="183.00" x2="237.80" y2="183.00" stroke="#ee88ee" stroke-width="1.8"/>
<text transform="translate(239.20,186.70) scale(1.035,1)" font-size="10.4" text-anchor="start" stroke="#1e1e1e" stroke-width="0.3" fill="#1e1e1e">c = 1.4 mg/ml</text>
<line x1="211.60" y1="196.50" x2="237.80" y2="196.50" stroke="#333333" stroke-width="1.8"/>
<text transform="translate(239.20,200.20) scale(1.035,1)" font-size="10.4" text-anchor="start" stroke="#1e1e1e" stroke-width="0.3" fill="#1e1e1e">c = 7.6 mg/ml</text>
<text transform="translate(354.20,18.10) scale(1.03,1)" font-size="16" text-anchor="start" stroke="#1c1c2a" stroke-width="0.1" fill="#1c1c2a">(b)</text>
<rect x="392.3" y="29.1" width="149.3" height="280.29999999999995" fill="none" stroke="#333333" stroke-width="1.4"/>
<line x1="389.30" y1="309.80" x2="392.30" y2="309.80" stroke="#333333" stroke-width="1.2"/>
<line x1="386.90" y1="299.00" x2="392.30" y2="299.00" stroke="#333333" stroke-width="1.2"/>
<text transform="translate(383.30,302.00) scale(1.08,1)" font-size="10.6" text-anchor="end" stroke="#1e1e1e" stroke-width="0.3" fill="#1e1e1e">54</text>
<line x1="389.30" y1="288.20" x2="392.30" y2="288.20" stroke="#333333" stroke-width="1.2"/>
<line x1="386.90" y1="277.40" x2="392.30" y2="277.40" stroke="#333333" stroke-width="1.2"/>
<text transform="translate(383.30,280.40) scale(1.08,1)" font-size="10.6" text-anchor="end" stroke="#1e1e1e" stroke-width="0.3" fill="#1e1e1e">55</text>
<line x1="389.30" y1="266.60" x2="392.30" y2="266.60" stroke="#333333" stroke-width="1.2"/>
<line x1="386.90" y1="255.80" x2="392.30" y2="255.80" stroke="#333333" stroke-width="1.2"/>
<text transform="translate(383.30,258.80) scale(1.08,1)" font-size="10.6" text-anchor="end" stroke="#1e1e1e" stroke-width="0.3" fill="#1e1e1e">56</text>
<line x1="389.30" y1="245.00" x2="392.30" y2="245.00" stroke="#333333" stroke-width="1.2"/>
<line x1="386.90" y1="234.20" x2="392.30" y2="234.20" stroke="#333333" stroke-width="1.2"/>
<text transform="translate(383.30,237.20) scale(1.08,1)" font-size="10.6" text-anchor="end" stroke="#1e1e1e" stroke-width="0.3" fill="#1e1e1e">57</text>
<line x1="389.30" y1="223.40" x2="392.30" y2="223.40" stroke="#333333" stroke-width="1.2"/>
<line x1="386.90" y1="212.60" x2="392.30" y2="212.60" stroke="#333333" stroke-width="1.2"/>
<text transform="translate(383.30,215.60) scale(1.08,1)" font-size="10.6" text-anchor="end" stroke="#1e1e1e" stroke-width="0.3" fill="#1e1e1e">58</text>
<line x1="389.30" y1="201.80" x2="392.30" y2="201.80" stroke="#333333" stroke-width="1.2"/>
<line x1="386.90" y1="191.00" x2="392.30" y2="191.00" stroke="#333333" stroke-width="1.2"/>
<text transform="translate(383.30,194.00) scale(1.08,1)" font-size="10.6" text-anchor="end" stroke="#1e1e1e" stroke-width="0.3" fill="#1e1e1e">59</text>
<line x1="389.30" y1="180.20" x2="392.30" y2="180.20" stroke="#333333" stroke-width="1.2"/>
<line x1="386.90" y1="169.40" x2="392.30" y2="169.40" stroke="#333333" stroke-width="1.2"/>
<text transform="translate(383.30,172.40) scale(1.08,1)" font-size="10.6" text-anchor="end" stroke="#1e1e1e" stroke-width="0.3" fill="#1e1e1e">60</text>
<line x1="389.30" y1="158.60" x2="392.30" y2="158.60" stroke="#333333" stroke-width="1.2"/>
<line x1="386.90" y1="147.80" x2="392.30" y2="147.80" stroke="#333333" stroke-width="1.2"/>
<text transform="translate(383.30,150.80) scale(1.08,1)" font-size="10.6" text-anchor="end" stroke="#1e1e1e" stroke-width="0.3" fill="#1e1e1e">61</text>
<line x1="389.30" y1="137.00" x2="392.30" y2="137.00" stroke="#333333" stroke-width="1.2"/>
<line x1="386.90" y1="126.20" x2="392.30" y2="126.20" stroke="#333333" stroke-width="1.2"/>
<text transform="translate(383.30,129.20) scale(1.08,1)" font-size="10.6" text-anchor="end" stroke="#1e1e1e" stroke-width="0.3" fill="#1e1e1e">62</text>
<line x1="389.30" y1="115.40" x2="392.30" y2="115.40" stroke="#333333" stroke-width="1.2"/>
<line x1="386.90" y1="104.60" x2="392.30" y2="104.60" stroke="#333333" stroke-width="1.2"/>
<text transform="translate(383.30,107.60) scale(1.08,1)" font-size="10.6" text-anchor="end" stroke="#1e1e1e" stroke-width="0.3" fill="#1e1e1e">63</text>
<line x1="389.30" y1="93.80" x2="392.30" y2="93.80" stroke="#333333" stroke-width="1.2"/>
<line x1="386.90" y1="83.00" x2="392.30" y2="83.00" stroke="#333333" stroke-width="1.2"/>
<text transform="translate(383.30,86.00) scale(1.08,1)" font-size="10.6" text-anchor="end" stroke="#1e1e1e" stroke-width="0.3" fill="#1e1e1e">64</text>
<line x1="389.30" y1="72.20" x2="392.30" y2="72.20" stroke="#333333" stroke-width="1.2"/>
<line x1="386.90" y1="61.40" x2="392.30" y2="61.40" stroke="#333333" stroke-width="1.2"/>
<text transform="translate(383.30,64.40) scale(1.08,1)" font-size="10.6" text-anchor="end" stroke="#1e1e1e" stroke-width="0.3" fill="#1e1e1e">65</text>
<line x1="389.30" y1="50.60" x2="392.30" y2="50.60" stroke="#333333" stroke-width="1.2"/>
<line x1="386.90" y1="39.80" x2="392.30" y2="39.80" stroke="#333333" stroke-width="1.2"/>
<text transform="translate(383.30,42.80) scale(1.08,1)" font-size="10.6" text-anchor="end" stroke="#1e1e1e" stroke-width="0.3" fill="#1e1e1e">66</text>
<line x1="389.30" y1="29.00" x2="392.30" y2="29.00" stroke="#333333" stroke-width="1.2"/>
<line x1="394.40" y1="309.40" x2="394.40" y2="315.00" stroke="#333333" stroke-width="1.2"/>
<text transform="translate(394.40,327.60) scale(1.08,1)" font-size="10.6" text-anchor="middle" stroke="#1e1e1e" stroke-width="0.3" fill="#1e1e1e">0</text>
<line x1="406.66" y1="309.40" x2="406.66" y2="312.40" stroke="#333333" stroke-width="1.2"/>
<line x1="418.92" y1="309.40" x2="418.92" y2="315.00" stroke="#333333" stroke-width="1.2"/>
<text transform="translate(418.92,327.60) scale(1.08,1)" font-size="10.6" text-anchor="middle" stroke="#1e1e1e" stroke-width="0.3" fill="#1e1e1e">5</text>
<line x1="431.17" y1="309.40" x2="431.17" y2="312.40" stroke="#333333" stroke-width="1.2"/>
<line x1="443.43" y1="309.40" x2="443.43" y2="315.00" stroke="#333333" stroke-width="1.2"/>
<text transform="translate(443.43,327.60) scale(1.08,1)" font-size="10.6" text-anchor="middle" stroke="#1e1e1e" stroke-width="0.3" fill="#1e1e1e">10</text>
<line x1="455.69" y1="309.40" x2="455.69" y2="312.40" stroke="#333333" stroke-width="1.2"/>
<line x1="467.95" y1="309.40" x2="467.95" y2="315.00" stroke="#333333" stroke-width="1.2"/>
<text transform="translate(467.95,327.60) scale(1.08,1)" font-size="10.6" text-anchor="middle" stroke="#1e1e1e" stroke-width="0.3" fill="#1e1e1e">15</text>
<line x1="480.21" y1="309.40" x2="480.21" y2="312.40" stroke="#333333" stroke-width="1.2"/>
<line x1="492.47" y1="309.40" x2="492.47" y2="315.00" stroke="#333333" stroke-width="1.2"/>
<text transform="translate(492.47,327.60) scale(1.08,1)" font-size="10.6" text-anchor="middle" stroke="#1e1e1e" stroke-width="0.3" fill="#1e1e1e">20</text>
<line x1="504.73" y1="309.40" x2="504.73" y2="312.40" stroke="#333333" stroke-width="1.2"/>
<line x1="516.98" y1="309.40" x2="516.98" y2="315.00" stroke="#333333" stroke-width="1.2"/>
<text transform="translate(516.98,327.60) scale(1.08,1)" font-size="10.6" text-anchor="middle" stroke="#1e1e1e" stroke-width="0.3" fill="#1e1e1e">25</text>
<line x1="529.24" y1="309.40" x2="529.24" y2="312.40" stroke="#333333" stroke-width="1.2"/>
<line x1="541.50" y1="309.40" x2="541.50" y2="315.00" stroke="#333333" stroke-width="1.2"/>
<text transform="translate(541.50,327.60) scale(1.08,1)" font-size="10.6" text-anchor="middle" stroke="#1e1e1e" stroke-width="0.3" fill="#1e1e1e">30</text>
<text transform="translate(466.80,348.60) scale(1.08,1)" font-size="12.6" text-anchor="middle" stroke="#1e1e1e" stroke-width="0.3" fill="#1e1e1e">c (mg/ml)</text>
<text transform="translate(359.50,179.40) rotate(-90) scale(1.13,1)" font-size="11.4" text-anchor="middle" stroke="#1e1e1e" stroke-width="0.3" fill="#1e1e1e">&#916;Z/Z (H = 0) (%)</text>
<path d="M394.50,194.00 L394.51,195.50 L394.55,197.00 L394.60,198.50 L394.68,200.00 L394.77,201.49 L394.88,202.98 L395.00,204.47 L395.12,205.96 L395.26,207.44 L395.40,208.92 L395.54,210.40 L395.72,211.88 L395.93,213.36 L396.19,214.84 L396.47,216.31 L396.78,217.78 L397.10,219.25 L397.44,220.70 L397.79,222.16 L398.15,223.60 L398.53,225.05 L398.93,226.50 L399.37,227.94 L399.83,229.38 L400.32,230.80 L400.84,232.20 L401.39,233.58 L401.97,234.94 L402.60,236.27 L403.28,237.61 L404.03,238.94 L404.82,240.24 L405.66,241.50 L406.55,242.72 L407.47,243.88 L408.43,244.96 L409.49,245.98 L410.64,246.94 L411.84,247.86 L413.06,248.78 L414.25,249.69 L415.43,250.60 L416.63,251.49 L417.83,252.38 L419.04,253.25 L420.26,254.12 L421.48,254.99 L422.70,255.85 L423.92,256.72 L425.13,257.59 L426.34,258.48 L427.53,259.38 L428.73,260.27 L429.93,261.17 L431.14,262.05 L432.36,262.91 L433.60,263.74 L434.86,264.54 L436.13,265.32 L437.43,266.07 L438.73,266.80 L440.04,267.52 L441.35,268.24 L442.67,268.95 L443.99,269.66 L445.31,270.37 L446.64,271.06 L447.97,271.75 L449.31,272.42 L450.66,273.07 L452.01,273.70 L453.37,274.31 L454.74,274.89 L456.12,275.45 L457.50,276.00 L458.89,276.53 L460.30,277.05 L461.70,277.56 L463.12,278.06 L464.53,278.54 L465.96,279.01 L467.38,279.48 L468.81,279.93 L470.24,280.38 L471.67,280.81 L473.10,281.24 L474.54,281.66 L475.97,282.07 L477.41,282.47 L478.85,282.87 L480.29,283.27 L481.73,283.65 L483.18,284.03 L484.63,284.41 L486.08,284.78 L487.53,285.14 L488.98,285.50 L490.44,285.85 L491.89,286.19 L493.35,286.53 L494.81,286.86 L496.27,287.19 L497.73,287.51 L499.19,287.83 L500.65,288.14 L502.11,288.44 L503.57,288.75 L505.03,289.05 L506.49,289.35 L507.96,289.64 L509.42,289.93 L510.89,290.22 L512.36,290.50 L513.82,290.78 L515.29,291.05 L516.76,291.33 L518.23,291.59 L519.71,291.86 L521.18,292.11 L522.65,292.37 L524.13,292.62 L525.60,292.86 L527.08,293.10 L528.56,293.33 L530.04,293.56 L531.52,293.78 L533.00,294.00" fill="none" stroke="#8c8c8c" stroke-width="1.1" stroke-linejoin="round" stroke-linecap="round" stroke-dasharray="3.5 2 1 2" stroke-linecap="butt"/>
<path d="M394.50,194.00 L394.70,192.52 L394.89,191.04 L395.08,189.57 L395.27,188.09 L395.45,186.61 L395.63,185.13 L395.80,183.65 L395.97,182.16 L396.13,180.68 L396.28,179.20 L396.43,177.72 L396.57,176.23 L396.70,174.75 L396.83,173.26 L396.96,171.78 L397.09,170.29 L397.22,168.81 L397.36,167.32 L397.51,165.84 L397.67,164.36 L397.84,162.88 L398.02,161.40 L398.21,159.92 L398.40,158.44 L398.60,156.96 L398.81,155.49 L399.01,154.01 L399.22,152.54 L399.44,151.06 L399.65,149.58 L399.87,148.11 L400.10,146.64 L400.33,145.16 L400.57,143.69 L400.81,142.22 L401.07,140.75 L401.33,139.29 L401.60,137.82 L401.88,136.36 L402.17,134.89 L402.46,133.43 L402.77,131.97 L403.08,130.51 L403.40,129.05 L403.73,127.60 L404.07,126.15 L404.43,124.70 L404.79,123.26 L405.17,121.82 L405.56,120.38 L405.97,118.94 L406.39,117.51 L406.82,116.08 L407.27,114.66 L407.74,113.24 L408.21,111.83 L408.70,110.43 L409.21,109.03 L409.75,107.64 L410.30,106.25 L410.87,104.87 L411.46,103.50 L412.05,102.13 L412.66,100.77 L413.27,99.41 L413.89,98.06 L414.52,96.71 L415.16,95.36 L415.82,94.02 L416.48,92.68 L417.16,91.35 L417.84,90.03 L418.54,88.71 L419.24,87.39 L419.95,86.09 L420.68,84.79 L421.42,83.50 L422.18,82.22 L422.96,80.94 L423.74,79.67 L424.52,78.40 L425.31,77.13 L426.09,75.86 L426.87,74.59 L427.65,73.32 L428.43,72.05 L429.22,70.79 L430.01,69.52 L430.80,68.26 L431.60,67.00" fill="none" stroke="#8c8c8c" stroke-width="1.1" stroke-linejoin="round" stroke-linecap="round" stroke-dasharray="3.5 2 1 2" stroke-linecap="butt"/>
<line x1="398.50" y1="225.56" x2="398.50" y2="245.00" stroke="#1515c8" stroke-width="1.1"/>
<line x1="395.60" y1="225.56" x2="401.40" y2="225.56" stroke="#1515c8" stroke-width="1.1"/>
<line x1="395.60" y1="245.00" x2="401.40" y2="245.00" stroke="#1515c8" stroke-width="1.1"/>
<rect x="396.22" y="233.18" width="4.2" height="4.2" fill="#fff" stroke="#1515c8" stroke-width="1.5"/>
<line x1="414.50" y1="243.27" x2="414.50" y2="255.37" stroke="#1515c8" stroke-width="1.1"/>
<line x1="411.60" y1="243.27" x2="417.40" y2="243.27" stroke="#1515c8" stroke-width="1.1"/>
<line x1="411.60" y1="255.37" x2="417.40" y2="255.37" stroke="#1515c8" stroke-width="1.1"/>
<rect x="411.91" y="247.22" width="4.2" height="4.2" fill="#fff" stroke="#1515c8" stroke-width="1.5"/>
<line x1="434.50" y1="259.47" x2="434.50" y2="267.25" stroke="#1515c8" stroke-width="1.1"/>
<line x1="431.60" y1="259.47" x2="437.40" y2="259.47" stroke="#1515c8" stroke-width="1.1"/>
<line x1="431.60" y1="267.25" x2="437.40" y2="267.25" stroke="#1515c8" stroke-width="1.1"/>
<rect x="432.02" y="261.26" width="4.2" height="4.2" fill="#fff" stroke="#1515c8" stroke-width="1.5"/>
<line x1="473.50" y1="280.21" x2="473.50" y2="291.87" stroke="#1515c8" stroke-width="1.1"/>
<line x1="470.60" y1="280.21" x2="476.40" y2="280.21" stroke="#1515c8" stroke-width="1.1"/>
<line x1="470.60" y1="291.87" x2="476.40" y2="291.87" stroke="#1515c8" stroke-width="1.1"/>
<rect x="471.73" y="283.94" width="4.2" height="4.2" fill="#fff" stroke="#1515c8" stroke-width="1.5"/>
<line x1="533.50" y1="277.62" x2="533.50" y2="295.76" stroke="#1515c8" stroke-width="1.1"/>
<line x1="530.60" y1="277.62" x2="536.40" y2="277.62" stroke="#1515c8" stroke-width="1.1"/>
<line x1="530.60" y1="295.76" x2="536.40" y2="295.76" stroke="#1515c8" stroke-width="1.1"/>
<rect x="531.06" y="284.59" width="4.2" height="4.2" fill="#fff" stroke="#1515c8" stroke-width="1.5"/>
<line x1="398.50" y1="170.05" x2="398.50" y2="187.33" stroke="#c43434" stroke-width="1.1"/>
<line x1="395.60" y1="170.05" x2="401.40" y2="170.05" stroke="#c43434" stroke-width="1.1"/>
<line x1="395.60" y1="187.33" x2="401.40" y2="187.33" stroke="#c43434" stroke-width="1.1"/>
<circle cx="398.13" cy="178.69" r="2.3" fill="#fff" stroke="#dc1414" stroke-width="1.9"/>
<line x1="401.50" y1="114.32" x2="401.50" y2="140.24" stroke="#c43434" stroke-width="1.1"/>
<line x1="398.60" y1="114.32" x2="404.40" y2="114.32" stroke="#c43434" stroke-width="1.1"/>
<line x1="398.60" y1="140.24" x2="404.40" y2="140.24" stroke="#c43434" stroke-width="1.1"/>
<circle cx="401.26" cy="127.28" r="2.3" fill="#fff" stroke="#dc1414" stroke-width="1.9"/>
<line x1="432.50" y1="48.44" x2="432.50" y2="85.59" stroke="#c43434" stroke-width="1.1"/>
<line x1="429.60" y1="48.44" x2="435.40" y2="48.44" stroke="#c43434" stroke-width="1.1"/>
<line x1="429.60" y1="85.59" x2="435.40" y2="85.59" stroke="#c43434" stroke-width="1.1"/>
<circle cx="432.06" cy="67.02" r="2.3" fill="#fff" stroke="#dc1414" stroke-width="1.9"/>
<line x1="394.50" y1="187.30" x2="394.50" y2="201.20" stroke="#111" stroke-width="1.3"/>
<line x1="391.50" y1="187.30" x2="397.50" y2="187.30" stroke="#111" stroke-width="1.3"/>
<line x1="391.50" y1="201.20" x2="397.50" y2="201.20" stroke="#111" stroke-width="1.3"/>
<path d="M391.10,194.20 L394.90,190.40 L398.70,194.20 L394.90,198.00 Z" fill="#000"/>
<rect x="466.90" y="135.60" width="4.4" height="4.4" fill="#fff" stroke="#1212d8" stroke-width="2.0"/>
<circle cx="469.2" cy="152.3" r="2.5" fill="#fff" stroke="#e01010" stroke-width="2.0"/>
<path d="M464.8,167.4 L469.4,162.8 L474.0,167.4 L469.4,172.0 Z" fill="#000"/>
<line x1="455.00" y1="181.80" x2="482.70" y2="181.80" stroke="#a0a0a0" stroke-width="1.1" stroke-dasharray="3.5 2 1 2" stroke-linecap="butt"/>
<text transform="translate(486.00,141.90) scale(1.04,1)" font-size="11.4" text-anchor="start" stroke="#1e1e1e" stroke-width="0.3" fill="#1e1e1e">Co-ferrite</text>
<text transform="translate(486.00,156.50) scale(1.04,1)" font-size="11.4" text-anchor="start" stroke="#1e1e1e" stroke-width="0.3" fill="#1e1e1e">SPIONs</text>
<text transform="translate(486.00,171.40) scale(1.04,1)" font-size="11.4" text-anchor="start" stroke="#1e1e1e" stroke-width="0.3" fill="#1e1e1e">bare wire</text>
<text transform="translate(486.00,185.90) scale(1.04,1)" font-size="11.4" text-anchor="start" stroke="#1e1e1e" stroke-width="0.3" fill="#1e1e1e">guides to</text>
<text transform="translate(510.00,200.50) scale(1.04,1)" font-size="11.4" text-anchor="middle" stroke="#1e1e1e" stroke-width="0.3" fill="#1e1e1e">the eye</text>
<text transform="translate(7.40,396.10) scale(0.98,1)" font-size="16" text-anchor="start" stroke="#1c1c2a" stroke-width="0.1" fill="#1c1c2a">(c)</text>
<rect x="50.6" y="415.0" width="279.79999999999995" height="280.0" fill="none" stroke="#333333" stroke-width="1.4"/>
<line x1="45.00" y1="695.00" x2="50.60" y2="695.00" stroke="#333333" stroke-width="1.2"/>
<text transform="translate(40.90,697.80) scale(0.98,1)" font-size="10.6" text-anchor="end" stroke="#1e1e1e" stroke-width="0.3" fill="#1e1e1e">56</text>
<line x1="47.60" y1="648.33" x2="50.60" y2="648.33" stroke="#333333" stroke-width="1.2"/>
<line x1="45.00" y1="601.67" x2="50.60" y2="601.67" stroke="#333333" stroke-width="1.2"/>
<text transform="translate(40.90,604.47) scale(0.98,1)" font-size="10.6" text-anchor="end" stroke="#1e1e1e" stroke-width="0.3" fill="#1e1e1e">57</text>
<line x1="47.60" y1="555.00" x2="50.60" y2="555.00" stroke="#333333" stroke-width="1.2"/>
<line x1="45.00" y1="508.33" x2="50.60" y2="508.33" stroke="#333333" stroke-width="1.2"/>
<text transform="translate(40.90,511.13) scale(0.98,1)" font-size="10.6" text-anchor="end" stroke="#1e1e1e" stroke-width="0.3" fill="#1e1e1e">58</text>
<line x1="47.60" y1="461.67" x2="50.60" y2="461.67" stroke="#333333" stroke-width="1.2"/>
<line x1="45.00" y1="415.00" x2="50.60" y2="415.00" stroke="#333333" stroke-width="1.2"/>
<text transform="translate(40.90,417.80) scale(0.98,1)" font-size="10.6" text-anchor="end" stroke="#1e1e1e" stroke-width="0.3" fill="#1e1e1e">59</text>
<line x1="55.40" y1="695.00" x2="55.40" y2="700.80" stroke="#333333" stroke-width="1.2"/>
<text transform="translate(55.40,713.00) scale(1.08,1)" font-size="10.6" text-anchor="middle" stroke="#1e1e1e" stroke-width="0.3" fill="#1e1e1e">0.0</text>
<line x1="87.40" y1="695.00" x2="87.40" y2="698.00" stroke="#333333" stroke-width="1.2"/>
<line x1="119.40" y1="695.00" x2="119.40" y2="700.80" stroke="#333333" stroke-width="1.2"/>
<text transform="translate(119.40,713.00) scale(1.08,1)" font-size="10.6" text-anchor="middle" stroke="#1e1e1e" stroke-width="0.3" fill="#1e1e1e">0.8</text>
<line x1="151.40" y1="695.00" x2="151.40" y2="698.00" stroke="#333333" stroke-width="1.2"/>
<line x1="183.40" y1="695.00" x2="183.40" y2="700.80" stroke="#333333" stroke-width="1.2"/>
<text transform="translate(183.40,713.00) scale(1.08,1)" font-size="10.6" text-anchor="middle" stroke="#1e1e1e" stroke-width="0.3" fill="#1e1e1e">1.6</text>
<line x1="215.40" y1="695.00" x2="215.40" y2="698.00" stroke="#333333" stroke-width="1.2"/>
<line x1="247.40" y1="695.00" x2="247.40" y2="700.80" stroke="#333333" stroke-width="1.2"/>
<text transform="translate(247.40,713.00) scale(1.08,1)" font-size="10.6" text-anchor="middle" stroke="#1e1e1e" stroke-width="0.3" fill="#1e1e1e">2.4</text>
<line x1="279.40" y1="695.00" x2="279.40" y2="698.00" stroke="#333333" stroke-width="1.2"/>
<line x1="311.40" y1="695.00" x2="311.40" y2="700.80" stroke="#333333" stroke-width="1.2"/>
<text transform="translate(311.40,713.00) scale(1.08,1)" font-size="10.6" text-anchor="middle" stroke="#1e1e1e" stroke-width="0.3" fill="#1e1e1e">3.2</text>
<line x1="55.20" y1="415.00" x2="55.20" y2="420.00" stroke="#333333" stroke-width="1.2"/>
<text transform="translate(55.40,406.00) scale(1.04,1)" font-size="10.0" text-anchor="middle" stroke="#1e1e1e" stroke-width="0.3" fill="#1e1e1e">0</text>
<line x1="86.45" y1="415.00" x2="86.45" y2="417.80" stroke="#333333" stroke-width="1.2"/>
<line x1="117.70" y1="415.00" x2="117.70" y2="420.00" stroke="#333333" stroke-width="1.2"/>
<text transform="translate(117.90,406.00) scale(1.04,1)" font-size="10.0" text-anchor="middle" stroke="#1e1e1e" stroke-width="0.3" fill="#1e1e1e">25</text>
<line x1="148.95" y1="415.00" x2="148.95" y2="417.80" stroke="#333333" stroke-width="1.2"/>
<line x1="180.20" y1="415.00" x2="180.20" y2="420.00" stroke="#333333" stroke-width="1.2"/>
<text transform="translate(180.40,406.00) scale(1.04,1)" font-size="10.0" text-anchor="middle" stroke="#1e1e1e" stroke-width="0.3" fill="#1e1e1e">50</text>
<line x1="211.45" y1="415.00" x2="211.45" y2="417.80" stroke="#333333" stroke-width="1.2"/>
<line x1="242.70" y1="415.00" x2="242.70" y2="420.00" stroke="#333333" stroke-width="1.2"/>
<text transform="translate(242.90,406.00) scale(1.04,1)" font-size="10.0" text-anchor="middle" stroke="#1e1e1e" stroke-width="0.3" fill="#1e1e1e">75</text>
<line x1="273.95" y1="415.00" x2="273.95" y2="417.80" stroke="#333333" stroke-width="1.2"/>
<line x1="305.20" y1="415.00" x2="305.20" y2="420.00" stroke="#333333" stroke-width="1.2"/>
<text transform="translate(305.40,406.00) scale(1.04,1)" font-size="10.0" text-anchor="middle" stroke="#1e1e1e" stroke-width="0.3" fill="#1e1e1e">100</text>
<text transform="translate(190.20,385.60) scale(1.04,1)" font-size="12.6" text-anchor="middle" stroke="#1e1e1e" stroke-width="0.3" fill="#1e1e1e"><tspan font-size="10.4">&#916;</tspan>p (mbar)</text>
<text transform="translate(192.50,734.40) scale(1.08,1)" font-size="12.6" text-anchor="middle" stroke="#1e1e1e" stroke-width="0.3" fill="#1e1e1e"><tspan font-style="italic">v</tspan> (mm/s)</text>
<text transform="translate(18.30,564.40) rotate(-90) scale(1.15,1)" font-size="11.8" text-anchor="middle" stroke="#1e1e1e" stroke-width="0.3" fill="#1e1e1e">&#916;Z/Z (H = 0) (%)</text>
<line x1="55.00" y1="429.70" x2="330.40" y2="429.70" stroke="#111" stroke-width="1.8" stroke-dasharray="7 6.36"/>
<path d="M55.50,612.49 L180.50,533.91 L305.50,454.85" fill="none" stroke="#bcbcbc" stroke-width="1.0" stroke-linejoin="round" stroke-linecap="round" stroke-dasharray="1 2"/>
<line x1="55.50" y1="579.83" x2="55.50" y2="645.16" stroke="#8282c6" stroke-width="0.9"/>
<line x1="53.00" y1="579.83" x2="58.00" y2="579.83" stroke="#8282c6" stroke-width="0.9"/>
<line x1="53.00" y1="645.16" x2="58.00" y2="645.16" stroke="#8282c6" stroke-width="0.9"/>
<line x1="180.50" y1="498.91" x2="180.50" y2="568.91" stroke="#8282c6" stroke-width="0.9"/>
<line x1="178.00" y1="498.91" x2="183.00" y2="498.91" stroke="#8282c6" stroke-width="0.9"/>
<line x1="178.00" y1="568.91" x2="183.00" y2="568.91" stroke="#8282c6" stroke-width="0.9"/>
<line x1="305.50" y1="419.39" x2="305.50" y2="490.32" stroke="#8282c6" stroke-width="0.9"/>
<line x1="303.00" y1="419.39" x2="308.00" y2="419.39" stroke="#8282c6" stroke-width="0.9"/>
<line x1="303.00" y1="490.32" x2="308.00" y2="490.32" stroke="#8282c6" stroke-width="0.9"/>
<rect x="52.40" y="609.39" width="6.2" height="6.2" fill="#fff" stroke="#0000d4" stroke-width="1.8"/>
<rect x="177.40" y="530.81" width="6.2" height="6.2" fill="#fff" stroke="#0000d4" stroke-width="1.8"/>
<rect x="302.40" y="451.75" width="6.2" height="6.2" fill="#fff" stroke="#0000d4" stroke-width="1.8"/>
<line x1="145.50" y1="625.10" x2="172.70" y2="625.10" stroke="#b0b0b0" stroke-width="1.0" stroke-dasharray="1 2"/>
<rect x="157.00" y="623.00" width="4.2" height="4.2" fill="#fff" stroke="#0000d4" stroke-width="2.0"/>
<text transform="translate(176.00,629.20) scale(1.05,1)" font-size="11.6" text-anchor="start" stroke="#1e1e1e" stroke-width="0.3" fill="#1e1e1e">Co-ferrite at <tspan font-style="italic">c</tspan> = 0.8 mg/ml</text>
<line x1="145.00" y1="640.00" x2="172.70" y2="640.00" stroke="#111" stroke-width="1.8" stroke-dasharray="7 6.27"/>
<text transform="translate(176.00,644.10) scale(1.05,1)" font-size="11.6" text-anchor="start" stroke="#1e1e1e" stroke-width="0.3" fill="#1e1e1e">bare wire</text>
</svg>
</body></html>
